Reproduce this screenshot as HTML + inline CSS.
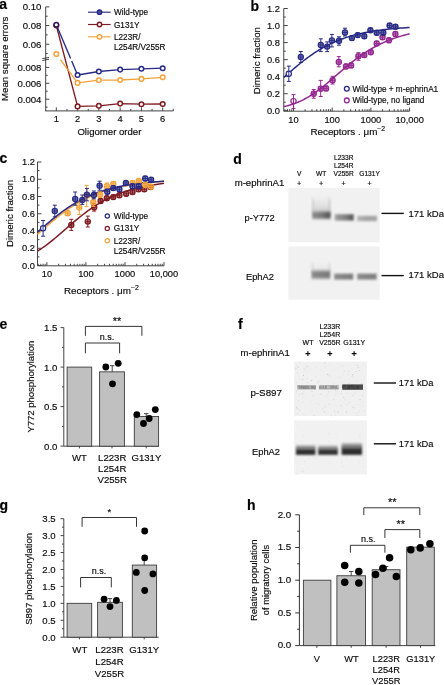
<!DOCTYPE html><html><head><meta charset="utf-8"><title>Figure</title><style>html,body{margin:0;padding:0;background:#fff;width:444px;height:685px;overflow:hidden}svg{display:block}</style></head><body><svg width="444" height="685" viewBox="0 0 444 685" font-family="'Liberation Sans', Arial, Helvetica, sans-serif"><style>text{stroke:#0a0a0a;stroke-width:0.16px;paint-order:stroke}</style><defs><filter id="b5" x="-50%" y="-50%" width="200%" height="200%"><feGaussianBlur stdDeviation="0.5"/></filter><filter id="b8" x="-50%" y="-50%" width="200%" height="200%"><feGaussianBlur stdDeviation="0.8"/></filter><filter id="b10" x="-50%" y="-50%" width="200%" height="200%"><feGaussianBlur stdDeviation="1.0"/></filter><filter id="b12" x="-50%" y="-50%" width="200%" height="200%"><feGaussianBlur stdDeviation="1.2"/></filter><filter id="b15" x="-50%" y="-50%" width="200%" height="200%"><feGaussianBlur stdDeviation="1.5"/></filter><filter id="b20" x="-50%" y="-50%" width="200%" height="200%"><feGaussianBlur stdDeviation="2.0"/></filter></defs><text x="-0.80" y="8.80" font-size="14" text-anchor="start" font-weight="bold" fill="#000" >a</text>
<line x1="45.70" y1="6.90" x2="45.70" y2="111.00" stroke="#444" stroke-width="1" />
<line x1="45.70" y1="6.90" x2="49.30" y2="6.90" stroke="#444" stroke-width="1" />
<line x1="45.70" y1="25.56" x2="49.30" y2="25.56" stroke="#444" stroke-width="1" />
<line x1="45.70" y1="44.22" x2="49.30" y2="44.22" stroke="#444" stroke-width="1" />
<line x1="45.70" y1="16.23" x2="47.70" y2="16.23" stroke="#444" stroke-width="1" />
<line x1="45.70" y1="34.89" x2="47.70" y2="34.89" stroke="#444" stroke-width="1" />
<line x1="45.70" y1="53.55" x2="47.70" y2="53.55" stroke="#444" stroke-width="1" />
<line x1="45.70" y1="67.40" x2="49.30" y2="67.40" stroke="#444" stroke-width="1" />
<line x1="45.70" y1="83.30" x2="49.30" y2="83.30" stroke="#444" stroke-width="1" />
<line x1="45.70" y1="99.20" x2="49.30" y2="99.20" stroke="#444" stroke-width="1" />
<line x1="45.70" y1="75.35" x2="47.70" y2="75.35" stroke="#444" stroke-width="1" />
<line x1="45.70" y1="91.25" x2="47.70" y2="91.25" stroke="#444" stroke-width="1" />
<line x1="45.70" y1="107.15" x2="47.70" y2="107.15" stroke="#444" stroke-width="1" />
<line x1="42.30" y1="58.60" x2="49.00" y2="57.40" stroke="#333" stroke-width="0.9" />
<line x1="42.30" y1="60.50" x2="49.00" y2="59.20" stroke="#333" stroke-width="0.9" />
<line x1="45.20" y1="110.90" x2="173.34" y2="110.90" stroke="#444" stroke-width="1" />
<line x1="56.30" y1="110.90" x2="56.30" y2="107.40" stroke="#444" stroke-width="1" />
<line x1="77.58" y1="110.90" x2="77.58" y2="107.40" stroke="#444" stroke-width="1" />
<line x1="98.86" y1="110.90" x2="98.86" y2="107.40" stroke="#444" stroke-width="1" />
<line x1="120.14" y1="110.90" x2="120.14" y2="107.40" stroke="#444" stroke-width="1" />
<line x1="141.42" y1="110.90" x2="141.42" y2="107.40" stroke="#444" stroke-width="1" />
<line x1="162.70" y1="110.90" x2="162.70" y2="107.40" stroke="#444" stroke-width="1" />
<line x1="66.94" y1="110.90" x2="66.94" y2="108.90" stroke="#444" stroke-width="1" />
<line x1="88.22" y1="110.90" x2="88.22" y2="108.90" stroke="#444" stroke-width="1" />
<line x1="109.50" y1="110.90" x2="109.50" y2="108.90" stroke="#444" stroke-width="1" />
<line x1="130.78" y1="110.90" x2="130.78" y2="108.90" stroke="#444" stroke-width="1" />
<line x1="152.06" y1="110.90" x2="152.06" y2="108.90" stroke="#444" stroke-width="1" />
<line x1="173.34" y1="110.90" x2="173.34" y2="108.90" stroke="#444" stroke-width="1" />
<text x="56.30" y="122.20" font-size="9.3" text-anchor="middle" font-weight="normal" fill="#0a0a0a" >1</text>
<text x="77.58" y="122.20" font-size="9.3" text-anchor="middle" font-weight="normal" fill="#0a0a0a" >2</text>
<text x="98.86" y="122.20" font-size="9.3" text-anchor="middle" font-weight="normal" fill="#0a0a0a" >3</text>
<text x="120.14" y="122.20" font-size="9.3" text-anchor="middle" font-weight="normal" fill="#0a0a0a" >4</text>
<text x="141.42" y="122.20" font-size="9.3" text-anchor="middle" font-weight="normal" fill="#0a0a0a" >5</text>
<text x="162.70" y="122.20" font-size="9.3" text-anchor="middle" font-weight="normal" fill="#0a0a0a" >6</text>
<text x="109.40" y="134.80" font-size="9.6" text-anchor="middle" font-weight="normal" fill="#0a0a0a" >Oligomer order</text>
<text x="41.40" y="10.30" font-size="9.6" text-anchor="end" font-weight="normal" fill="#0a0a0a" >0.10</text>
<text x="41.40" y="28.96" font-size="9.6" text-anchor="end" font-weight="normal" fill="#0a0a0a" >0.08</text>
<text x="41.40" y="47.62" font-size="9.6" text-anchor="end" font-weight="normal" fill="#0a0a0a" >0.06</text>
<text x="41.40" y="70.80" font-size="9.6" text-anchor="end" font-weight="normal" fill="#0a0a0a" >0.008</text>
<text x="41.40" y="86.70" font-size="9.6" text-anchor="end" font-weight="normal" fill="#0a0a0a" >0.006</text>
<text x="41.40" y="102.60" font-size="9.6" text-anchor="end" font-weight="normal" fill="#0a0a0a" >0.004</text>
<text transform="translate(8.10,58.80) rotate(-90)" font-size="9.7" text-anchor="middle" fill="#0a0a0a" >Mean square errors</text>
<polyline points="56.30,25.50 77.58,106.40 98.86,105.80 120.14,103.60 141.42,104.20 162.70,104.00" fill="none" stroke="#7e1b22" stroke-width="1.35" stroke-linejoin="round"/>
<circle cx="56.30" cy="25.50" r="2.3" fill="#fff" fill-opacity="1" stroke="#7e1b22" stroke-width="1.5"/>
<circle cx="77.58" cy="106.40" r="2.3" fill="#fff" fill-opacity="1" stroke="#7e1b22" stroke-width="1.5"/>
<circle cx="98.86" cy="105.80" r="2.3" fill="#fff" fill-opacity="1" stroke="#7e1b22" stroke-width="1.5"/>
<circle cx="120.14" cy="103.60" r="2.3" fill="#fff" fill-opacity="1" stroke="#7e1b22" stroke-width="1.5"/>
<circle cx="141.42" cy="104.20" r="2.3" fill="#fff" fill-opacity="1" stroke="#7e1b22" stroke-width="1.5"/>
<circle cx="162.70" cy="104.00" r="2.3" fill="#fff" fill-opacity="1" stroke="#7e1b22" stroke-width="1.5"/>
<polyline points="56.30,54.00 58.21,56.60" fill="none" stroke="#f2a33a" stroke-width="1.35" stroke-linejoin="round"/>
<polyline points="60.42,59.60 77.58,82.90 98.86,80.20 120.14,80.00 141.42,78.90 162.70,77.30" fill="none" stroke="#f2a33a" stroke-width="1.35" stroke-linejoin="round"/>
<circle cx="56.30" cy="54.00" r="2.3" fill="#fff" fill-opacity="1" stroke="#f2a33a" stroke-width="1.5"/>
<circle cx="77.58" cy="82.90" r="2.3" fill="#fff" fill-opacity="1" stroke="#f2a33a" stroke-width="1.5"/>
<circle cx="98.86" cy="80.20" r="2.3" fill="#fff" fill-opacity="1" stroke="#f2a33a" stroke-width="1.5"/>
<circle cx="120.14" cy="80.00" r="2.3" fill="#fff" fill-opacity="1" stroke="#f2a33a" stroke-width="1.5"/>
<circle cx="141.42" cy="78.90" r="2.3" fill="#fff" fill-opacity="1" stroke="#f2a33a" stroke-width="1.5"/>
<circle cx="162.70" cy="77.30" r="2.3" fill="#fff" fill-opacity="1" stroke="#f2a33a" stroke-width="1.5"/>
<polyline points="56.30,24.70 70.64,58.60" fill="none" stroke="#272a85" stroke-width="1.35" stroke-linejoin="round"/>
<polyline points="71.66,61.00 77.58,75.00 98.86,71.50 120.14,69.60 141.42,68.80 162.70,68.20" fill="none" stroke="#272a85" stroke-width="1.35" stroke-linejoin="round"/>
<circle cx="56.30" cy="24.70" r="2.3" fill="#fff" fill-opacity="1" stroke="#2e1358" stroke-width="1.5"/>
<circle cx="77.58" cy="75.00" r="2.3" fill="#fff" fill-opacity="1" stroke="#272a85" stroke-width="1.5"/>
<circle cx="98.86" cy="71.50" r="2.3" fill="#fff" fill-opacity="1" stroke="#272a85" stroke-width="1.5"/>
<circle cx="120.14" cy="69.60" r="2.3" fill="#fff" fill-opacity="1" stroke="#272a85" stroke-width="1.5"/>
<circle cx="141.42" cy="68.80" r="2.3" fill="#fff" fill-opacity="1" stroke="#272a85" stroke-width="1.5"/>
<circle cx="162.70" cy="68.20" r="2.3" fill="#fff" fill-opacity="1" stroke="#272a85" stroke-width="1.5"/>
<line x1="88.00" y1="12.20" x2="110.60" y2="12.20" stroke="#272a85" stroke-width="1.15" />
<circle cx="99.50" cy="12.20" r="2.2" fill="#4a4d9e" fill-opacity="1" stroke="#272a85" stroke-width="1.4"/>
<text x="114.00" y="15.20" font-size="8.2" text-anchor="start" font-weight="normal" fill="#0a0a0a" >Wild-type</text>
<line x1="88.00" y1="24.50" x2="110.60" y2="24.50" stroke="#7e1b22" stroke-width="1.15" />
<circle cx="99.50" cy="24.50" r="2.2" fill="#fff" fill-opacity="1" stroke="#7e1b22" stroke-width="1.4"/>
<text x="114.00" y="27.50" font-size="8.2" text-anchor="start" font-weight="normal" fill="#0a0a0a" >G131Y</text>
<line x1="88.00" y1="36.80" x2="110.60" y2="36.80" stroke="#f2a33a" stroke-width="1.15" />
<circle cx="99.50" cy="36.80" r="2.2" fill="#fff" fill-opacity="1" stroke="#f2a33a" stroke-width="1.4"/>
<text x="114.00" y="39.80" font-size="8.2" text-anchor="start" font-weight="normal" fill="#0a0a0a" >L223R/</text>
<text x="114.00" y="49.60" font-size="8.2" text-anchor="start" font-weight="normal" fill="#0a0a0a" >L254R/V255R</text>
<text x="250.60" y="10.60" font-size="14" text-anchor="start" font-weight="bold" fill="#000" >b</text>
<line x1="283.75" y1="8.51" x2="283.75" y2="111.20" stroke="#444" stroke-width="1" />
<line x1="283.75" y1="110.75" x2="287.75" y2="110.75" stroke="#444" stroke-width="1" />
<text x="279.90" y="114.05" font-size="9.3" text-anchor="end" font-weight="normal" fill="#0a0a0a" >0.0</text>
<line x1="283.75" y1="93.71" x2="287.75" y2="93.71" stroke="#444" stroke-width="1" />
<text x="279.90" y="97.01" font-size="9.3" text-anchor="end" font-weight="normal" fill="#0a0a0a" >0.2</text>
<line x1="283.75" y1="76.67" x2="287.75" y2="76.67" stroke="#444" stroke-width="1" />
<text x="279.90" y="79.97" font-size="9.3" text-anchor="end" font-weight="normal" fill="#0a0a0a" >0.4</text>
<line x1="283.75" y1="59.63" x2="287.75" y2="59.63" stroke="#444" stroke-width="1" />
<text x="279.90" y="62.93" font-size="9.3" text-anchor="end" font-weight="normal" fill="#0a0a0a" >0.6</text>
<line x1="283.75" y1="42.59" x2="287.75" y2="42.59" stroke="#444" stroke-width="1" />
<text x="279.90" y="45.89" font-size="9.3" text-anchor="end" font-weight="normal" fill="#0a0a0a" >0.8</text>
<line x1="283.75" y1="25.55" x2="287.75" y2="25.55" stroke="#444" stroke-width="1" />
<text x="279.90" y="28.85" font-size="9.3" text-anchor="end" font-weight="normal" fill="#0a0a0a" >1.0</text>
<line x1="283.75" y1="8.51" x2="287.75" y2="8.51" stroke="#444" stroke-width="1" />
<text x="279.90" y="11.81" font-size="9.3" text-anchor="end" font-weight="normal" fill="#0a0a0a" >1.2</text>
<line x1="283.75" y1="102.23" x2="285.75" y2="102.23" stroke="#444" stroke-width="1" />
<line x1="283.75" y1="85.19" x2="285.75" y2="85.19" stroke="#444" stroke-width="1" />
<line x1="283.75" y1="68.15" x2="285.75" y2="68.15" stroke="#444" stroke-width="1" />
<line x1="283.75" y1="51.11" x2="285.75" y2="51.11" stroke="#444" stroke-width="1" />
<line x1="283.75" y1="34.07" x2="285.75" y2="34.07" stroke="#444" stroke-width="1" />
<line x1="283.75" y1="17.03" x2="285.75" y2="17.03" stroke="#444" stroke-width="1" />
<line x1="283.75" y1="111.20" x2="409.60" y2="111.20" stroke="#444" stroke-width="1" />
<line x1="305.15" y1="111.20" x2="305.15" y2="109.20" stroke="#444" stroke-width="1" />
<line x1="311.96" y1="111.20" x2="311.96" y2="109.20" stroke="#444" stroke-width="1" />
<line x1="316.80" y1="111.20" x2="316.80" y2="109.20" stroke="#444" stroke-width="1" />
<line x1="320.55" y1="111.20" x2="320.55" y2="109.20" stroke="#444" stroke-width="1" />
<line x1="323.61" y1="111.20" x2="323.61" y2="109.20" stroke="#444" stroke-width="1" />
<line x1="326.21" y1="111.20" x2="326.21" y2="109.20" stroke="#444" stroke-width="1" />
<line x1="328.45" y1="111.20" x2="328.45" y2="109.20" stroke="#444" stroke-width="1" />
<line x1="330.43" y1="111.20" x2="330.43" y2="109.20" stroke="#444" stroke-width="1" />
<line x1="343.85" y1="111.20" x2="343.85" y2="109.20" stroke="#444" stroke-width="1" />
<line x1="350.66" y1="111.20" x2="350.66" y2="109.20" stroke="#444" stroke-width="1" />
<line x1="355.50" y1="111.20" x2="355.50" y2="109.20" stroke="#444" stroke-width="1" />
<line x1="359.25" y1="111.20" x2="359.25" y2="109.20" stroke="#444" stroke-width="1" />
<line x1="362.31" y1="111.20" x2="362.31" y2="109.20" stroke="#444" stroke-width="1" />
<line x1="364.91" y1="111.20" x2="364.91" y2="109.20" stroke="#444" stroke-width="1" />
<line x1="367.15" y1="111.20" x2="367.15" y2="109.20" stroke="#444" stroke-width="1" />
<line x1="369.13" y1="111.20" x2="369.13" y2="109.20" stroke="#444" stroke-width="1" />
<line x1="382.55" y1="111.20" x2="382.55" y2="109.20" stroke="#444" stroke-width="1" />
<line x1="389.36" y1="111.20" x2="389.36" y2="109.20" stroke="#444" stroke-width="1" />
<line x1="394.20" y1="111.20" x2="394.20" y2="109.20" stroke="#444" stroke-width="1" />
<line x1="397.95" y1="111.20" x2="397.95" y2="109.20" stroke="#444" stroke-width="1" />
<line x1="401.01" y1="111.20" x2="401.01" y2="109.20" stroke="#444" stroke-width="1" />
<line x1="403.61" y1="111.20" x2="403.61" y2="109.20" stroke="#444" stroke-width="1" />
<line x1="405.85" y1="111.20" x2="405.85" y2="109.20" stroke="#444" stroke-width="1" />
<line x1="407.83" y1="111.20" x2="407.83" y2="109.20" stroke="#444" stroke-width="1" />
<line x1="284.91" y1="111.20" x2="284.91" y2="109.20" stroke="#444" stroke-width="1" />
<line x1="287.51" y1="111.20" x2="287.51" y2="109.20" stroke="#444" stroke-width="1" />
<line x1="289.75" y1="111.20" x2="289.75" y2="109.20" stroke="#444" stroke-width="1" />
<line x1="291.73" y1="111.20" x2="291.73" y2="109.20" stroke="#444" stroke-width="1" />
<line x1="293.50" y1="111.20" x2="293.50" y2="107.60" stroke="#444" stroke-width="1" />
<text x="293.50" y="122.60" font-size="9.3" text-anchor="middle" font-weight="normal" fill="#0a0a0a" >10</text>
<line x1="332.20" y1="111.20" x2="332.20" y2="107.60" stroke="#444" stroke-width="1" />
<text x="332.20" y="122.60" font-size="9.3" text-anchor="middle" font-weight="normal" fill="#0a0a0a" >100</text>
<line x1="370.90" y1="111.20" x2="370.90" y2="107.60" stroke="#444" stroke-width="1" />
<text x="370.90" y="122.60" font-size="9.3" text-anchor="middle" font-weight="normal" fill="#0a0a0a" >1000</text>
<line x1="409.60" y1="111.20" x2="409.60" y2="107.60" stroke="#444" stroke-width="1" />
<text x="409.60" y="122.60" font-size="9.3" text-anchor="middle" font-weight="normal" fill="#0a0a0a" >10,000</text>
<text x="310.4" y="134.6" font-size="9.85" fill="#0a0a0a">Receptors . μm<tspan font-size="6.8" dy="-3.8">−2</tspan></text>
<text transform="translate(259.70,60.70) rotate(-90)" font-size="9.7" text-anchor="middle" fill="#0a0a0a" >Dimeric fraction</text>
<polyline points="283.75,77.41 285.32,76.04 286.90,74.67 288.47,73.31 290.04,71.95 291.62,70.59 293.19,69.24 294.76,67.91 296.33,66.59 297.91,65.29 299.48,64.00 301.05,62.74 302.63,61.50 304.20,60.28 305.77,59.08 307.35,57.91 308.92,56.76 310.49,55.64 312.07,54.55 313.64,53.48 315.21,52.45 316.79,51.44 318.36,50.46 319.93,49.50 321.50,48.58 323.08,47.69 324.65,46.82 326.22,45.98 327.80,45.17 329.37,44.38 330.94,43.62 332.52,42.89 334.09,42.18 335.66,41.50 337.24,40.84 338.81,40.21 340.38,39.60 341.96,39.01 343.53,38.45 345.10,37.91 346.68,37.38 348.25,36.88 349.82,36.40 351.39,35.93 352.97,35.49 354.54,35.06 356.11,34.65 357.69,34.26 359.26,33.88 360.83,33.52 362.41,33.17 363.98,32.84 365.55,32.52 367.13,32.21 368.70,31.92 370.27,31.64 371.85,31.37 373.42,31.11 374.99,30.87 376.56,30.63 378.14,30.41 379.71,30.19 381.28,29.98 382.86,29.79 384.43,29.60 386.00,29.42 387.58,29.24 389.15,29.08 390.72,28.92 392.30,28.77 393.87,28.62 395.44,28.49 397.01,28.35 398.59,28.23 400.16,28.11 401.73,27.99 403.31,27.88 404.88,27.78 406.45,27.68 408.03,27.58 409.60,27.49" fill="none" stroke="#272a85" stroke-width="1.5" stroke-linejoin="round"/>
<polyline points="283.75,106.64 285.32,106.27 286.90,105.88 288.47,105.46 290.04,105.01 291.62,104.52 293.19,104.00 294.76,103.44 296.33,102.84 297.91,102.21 299.48,101.54 301.05,100.82 302.63,100.07 304.20,99.27 305.77,98.43 307.35,97.54 308.92,96.62 310.49,95.65 312.07,94.64 313.64,93.60 315.21,92.51 316.79,91.39 318.36,90.23 319.93,89.04 321.50,87.81 323.08,86.57 324.65,85.29 326.22,83.99 327.80,82.68 329.37,81.34 330.94,80.00 332.52,78.64 334.09,77.28 335.66,75.91 337.24,74.54 338.81,73.18 340.38,71.82 341.96,70.46 343.53,69.12 345.10,67.79 346.68,66.47 348.25,65.17 349.82,63.88 351.39,62.62 352.97,61.38 354.54,60.16 356.11,58.97 357.69,57.80 359.26,56.65 360.83,55.54 362.41,54.45 363.98,53.38 365.55,52.35 367.13,51.34 368.70,50.37 370.27,49.42 371.85,48.50 373.42,47.60 374.99,46.74 376.56,45.90 378.14,45.09 379.71,44.31 381.28,43.55 382.86,42.82 384.43,42.12 386.00,41.44 387.58,40.78 389.15,40.15 390.72,39.54 392.30,38.96 393.87,38.40 395.44,37.86 397.01,37.33 398.59,36.83 400.16,36.35 401.73,35.89 403.31,35.45 404.88,35.02 406.45,34.61 408.03,34.22 409.60,33.84" fill="none" stroke="#93278f" stroke-width="1.5" stroke-linejoin="round"/>
<circle cx="293.50" cy="101.10" r="2.6" fill="#fff" fill-opacity="1" stroke="#93278f" stroke-width="1.2"/>
<line x1="293.50" y1="94.60" x2="293.50" y2="108.40" stroke="#93278f" stroke-width="1.0" />
<line x1="291.50" y1="94.60" x2="295.50" y2="94.60" stroke="#93278f" stroke-width="1.0" />
<line x1="291.50" y1="108.40" x2="295.50" y2="108.40" stroke="#93278f" stroke-width="1.0" />
<circle cx="313.70" cy="93.80" r="2.6" fill="#93278f" fill-opacity="0.58" stroke="#93278f" stroke-width="1.2"/>
<line x1="311.10" y1="93.80" x2="316.30" y2="93.80" stroke="#93278f" stroke-width="0.9" />
<line x1="313.70" y1="89.50" x2="313.70" y2="98.20" stroke="#93278f" stroke-width="1.0" />
<line x1="311.70" y1="89.50" x2="315.70" y2="89.50" stroke="#93278f" stroke-width="1.0" />
<line x1="311.70" y1="98.20" x2="315.70" y2="98.20" stroke="#93278f" stroke-width="1.0" />
<circle cx="320.70" cy="88.70" r="2.6" fill="#93278f" fill-opacity="0.58" stroke="#93278f" stroke-width="1.2"/>
<line x1="318.10" y1="88.70" x2="323.30" y2="88.70" stroke="#93278f" stroke-width="0.9" />
<line x1="320.70" y1="80.40" x2="320.70" y2="96.50" stroke="#93278f" stroke-width="1.0" />
<line x1="318.70" y1="80.40" x2="322.70" y2="80.40" stroke="#93278f" stroke-width="1.0" />
<line x1="318.70" y1="96.50" x2="322.70" y2="96.50" stroke="#93278f" stroke-width="1.0" />
<circle cx="326.10" cy="88.40" r="2.6" fill="#93278f" fill-opacity="0.58" stroke="#93278f" stroke-width="1.2"/>
<line x1="323.50" y1="88.40" x2="328.70" y2="88.40" stroke="#93278f" stroke-width="0.9" />
<line x1="326.10" y1="86.00" x2="326.10" y2="90.80" stroke="#93278f" stroke-width="1.0" />
<line x1="324.10" y1="86.00" x2="328.10" y2="86.00" stroke="#93278f" stroke-width="1.0" />
<line x1="324.10" y1="90.80" x2="328.10" y2="90.80" stroke="#93278f" stroke-width="1.0" />
<circle cx="332.60" cy="80.30" r="2.6" fill="#93278f" fill-opacity="0.58" stroke="#93278f" stroke-width="1.2"/>
<line x1="330.00" y1="80.30" x2="335.20" y2="80.30" stroke="#93278f" stroke-width="0.9" />
<line x1="332.60" y1="76.30" x2="332.60" y2="84.00" stroke="#93278f" stroke-width="1.0" />
<line x1="330.60" y1="76.30" x2="334.60" y2="76.30" stroke="#93278f" stroke-width="1.0" />
<line x1="330.60" y1="84.00" x2="334.60" y2="84.00" stroke="#93278f" stroke-width="1.0" />
<circle cx="338.80" cy="62.00" r="2.6" fill="#93278f" fill-opacity="0.58" stroke="#93278f" stroke-width="1.2"/>
<line x1="336.20" y1="62.00" x2="341.40" y2="62.00" stroke="#93278f" stroke-width="0.9" />
<line x1="338.80" y1="56.60" x2="338.80" y2="66.80" stroke="#93278f" stroke-width="1.0" />
<line x1="336.80" y1="56.60" x2="340.80" y2="56.60" stroke="#93278f" stroke-width="1.0" />
<line x1="336.80" y1="66.80" x2="340.80" y2="66.80" stroke="#93278f" stroke-width="1.0" />
<circle cx="346.00" cy="66.40" r="2.6" fill="#93278f" fill-opacity="0.58" stroke="#93278f" stroke-width="1.2"/>
<line x1="343.40" y1="66.40" x2="348.60" y2="66.40" stroke="#93278f" stroke-width="0.9" />
<line x1="346.00" y1="64.00" x2="346.00" y2="68.80" stroke="#93278f" stroke-width="1.0" />
<line x1="344.00" y1="64.00" x2="348.00" y2="64.00" stroke="#93278f" stroke-width="1.0" />
<line x1="344.00" y1="68.80" x2="348.00" y2="68.80" stroke="#93278f" stroke-width="1.0" />
<circle cx="351.10" cy="65.40" r="2.6" fill="#93278f" fill-opacity="0.58" stroke="#93278f" stroke-width="1.2"/>
<line x1="348.50" y1="65.40" x2="353.70" y2="65.40" stroke="#93278f" stroke-width="0.9" />
<line x1="351.10" y1="63.00" x2="351.10" y2="67.80" stroke="#93278f" stroke-width="1.0" />
<line x1="349.10" y1="63.00" x2="353.10" y2="63.00" stroke="#93278f" stroke-width="1.0" />
<line x1="349.10" y1="67.80" x2="353.10" y2="67.80" stroke="#93278f" stroke-width="1.0" />
<circle cx="358.40" cy="56.30" r="2.6" fill="#93278f" fill-opacity="0.58" stroke="#93278f" stroke-width="1.2"/>
<line x1="355.80" y1="56.30" x2="361.00" y2="56.30" stroke="#93278f" stroke-width="0.9" />
<line x1="358.40" y1="52.70" x2="358.40" y2="60.30" stroke="#93278f" stroke-width="1.0" />
<line x1="356.40" y1="52.70" x2="360.40" y2="52.70" stroke="#93278f" stroke-width="1.0" />
<line x1="356.40" y1="60.30" x2="360.40" y2="60.30" stroke="#93278f" stroke-width="1.0" />
<circle cx="364.30" cy="55.10" r="2.6" fill="#93278f" fill-opacity="0.58" stroke="#93278f" stroke-width="1.2"/>
<line x1="361.70" y1="55.10" x2="366.90" y2="55.10" stroke="#93278f" stroke-width="0.9" />
<line x1="364.30" y1="53.00" x2="364.30" y2="57.20" stroke="#93278f" stroke-width="1.0" />
<line x1="362.30" y1="53.00" x2="366.30" y2="53.00" stroke="#93278f" stroke-width="1.0" />
<line x1="362.30" y1="57.20" x2="366.30" y2="57.20" stroke="#93278f" stroke-width="1.0" />
<circle cx="370.80" cy="52.20" r="2.6" fill="#93278f" fill-opacity="0.58" stroke="#93278f" stroke-width="1.2"/>
<line x1="368.20" y1="52.20" x2="373.40" y2="52.20" stroke="#93278f" stroke-width="0.9" />
<line x1="370.80" y1="50.00" x2="370.80" y2="54.40" stroke="#93278f" stroke-width="1.0" />
<line x1="368.80" y1="50.00" x2="372.80" y2="50.00" stroke="#93278f" stroke-width="1.0" />
<line x1="368.80" y1="54.40" x2="372.80" y2="54.40" stroke="#93278f" stroke-width="1.0" />
<circle cx="376.70" cy="43.50" r="2.6" fill="#93278f" fill-opacity="0.58" stroke="#93278f" stroke-width="1.2"/>
<line x1="374.10" y1="43.50" x2="379.30" y2="43.50" stroke="#93278f" stroke-width="0.9" />
<line x1="376.70" y1="41.30" x2="376.70" y2="45.70" stroke="#93278f" stroke-width="1.0" />
<line x1="374.70" y1="41.30" x2="378.70" y2="41.30" stroke="#93278f" stroke-width="1.0" />
<line x1="374.70" y1="45.70" x2="378.70" y2="45.70" stroke="#93278f" stroke-width="1.0" />
<circle cx="382.50" cy="37.20" r="2.6" fill="#93278f" fill-opacity="0.58" stroke="#93278f" stroke-width="1.2"/>
<line x1="379.90" y1="37.20" x2="385.10" y2="37.20" stroke="#93278f" stroke-width="0.9" />
<line x1="382.50" y1="35.00" x2="382.50" y2="39.40" stroke="#93278f" stroke-width="1.0" />
<line x1="380.50" y1="35.00" x2="384.50" y2="35.00" stroke="#93278f" stroke-width="1.0" />
<line x1="380.50" y1="39.40" x2="384.50" y2="39.40" stroke="#93278f" stroke-width="1.0" />
<circle cx="389.00" cy="40.30" r="2.6" fill="#93278f" fill-opacity="0.58" stroke="#93278f" stroke-width="1.2"/>
<line x1="386.40" y1="40.30" x2="391.60" y2="40.30" stroke="#93278f" stroke-width="0.9" />
<line x1="389.00" y1="38.00" x2="389.00" y2="42.60" stroke="#93278f" stroke-width="1.0" />
<line x1="387.00" y1="38.00" x2="391.00" y2="38.00" stroke="#93278f" stroke-width="1.0" />
<line x1="387.00" y1="42.60" x2="391.00" y2="42.60" stroke="#93278f" stroke-width="1.0" />
<circle cx="395.40" cy="34.00" r="2.6" fill="#93278f" fill-opacity="0.58" stroke="#93278f" stroke-width="1.2"/>
<line x1="392.80" y1="34.00" x2="398.00" y2="34.00" stroke="#93278f" stroke-width="0.9" />
<line x1="395.40" y1="31.60" x2="395.40" y2="36.40" stroke="#93278f" stroke-width="1.0" />
<line x1="393.40" y1="31.60" x2="397.40" y2="31.60" stroke="#93278f" stroke-width="1.0" />
<line x1="393.40" y1="36.40" x2="397.40" y2="36.40" stroke="#93278f" stroke-width="1.0" />
<circle cx="288.80" cy="73.80" r="2.6" fill="#fff" fill-opacity="1" stroke="#272a85" stroke-width="1.2"/>
<line x1="288.80" y1="66.10" x2="288.80" y2="81.40" stroke="#272a85" stroke-width="1.0" />
<line x1="286.80" y1="66.10" x2="290.80" y2="66.10" stroke="#272a85" stroke-width="1.0" />
<line x1="286.80" y1="81.40" x2="290.80" y2="81.40" stroke="#272a85" stroke-width="1.0" />
<circle cx="300.80" cy="57.00" r="2.6" fill="#272a85" fill-opacity="0.58" stroke="#272a85" stroke-width="1.2"/>
<line x1="298.20" y1="57.00" x2="303.40" y2="57.00" stroke="#272a85" stroke-width="0.9" />
<line x1="300.80" y1="51.50" x2="300.80" y2="62.40" stroke="#272a85" stroke-width="1.0" />
<line x1="298.80" y1="51.50" x2="302.80" y2="51.50" stroke="#272a85" stroke-width="1.0" />
<line x1="298.80" y1="62.40" x2="302.80" y2="62.40" stroke="#272a85" stroke-width="1.0" />
<circle cx="320.80" cy="44.90" r="2.6" fill="#272a85" fill-opacity="0.58" stroke="#272a85" stroke-width="1.2"/>
<line x1="318.20" y1="44.90" x2="323.40" y2="44.90" stroke="#272a85" stroke-width="0.9" />
<line x1="320.80" y1="38.80" x2="320.80" y2="51.60" stroke="#272a85" stroke-width="1.0" />
<line x1="318.80" y1="38.80" x2="322.80" y2="38.80" stroke="#272a85" stroke-width="1.0" />
<line x1="318.80" y1="51.60" x2="322.80" y2="51.60" stroke="#272a85" stroke-width="1.0" />
<circle cx="327.20" cy="46.60" r="2.6" fill="#272a85" fill-opacity="0.58" stroke="#272a85" stroke-width="1.2"/>
<line x1="324.60" y1="46.60" x2="329.80" y2="46.60" stroke="#272a85" stroke-width="0.9" />
<line x1="327.20" y1="41.90" x2="327.20" y2="51.60" stroke="#272a85" stroke-width="1.0" />
<line x1="325.20" y1="41.90" x2="329.20" y2="41.90" stroke="#272a85" stroke-width="1.0" />
<line x1="325.20" y1="51.60" x2="329.20" y2="51.60" stroke="#272a85" stroke-width="1.0" />
<circle cx="331.90" cy="40.50" r="2.6" fill="#272a85" fill-opacity="0.58" stroke="#272a85" stroke-width="1.2"/>
<line x1="329.30" y1="40.50" x2="334.50" y2="40.50" stroke="#272a85" stroke-width="0.9" />
<line x1="331.90" y1="34.40" x2="331.90" y2="46.90" stroke="#272a85" stroke-width="1.0" />
<line x1="329.90" y1="34.40" x2="333.90" y2="34.40" stroke="#272a85" stroke-width="1.0" />
<line x1="329.90" y1="46.90" x2="333.90" y2="46.90" stroke="#272a85" stroke-width="1.0" />
<circle cx="339.00" cy="40.80" r="2.6" fill="#272a85" fill-opacity="0.58" stroke="#272a85" stroke-width="1.2"/>
<line x1="336.40" y1="40.80" x2="341.60" y2="40.80" stroke="#272a85" stroke-width="0.9" />
<line x1="339.00" y1="36.80" x2="339.00" y2="45.20" stroke="#272a85" stroke-width="1.0" />
<line x1="337.00" y1="36.80" x2="341.00" y2="36.80" stroke="#272a85" stroke-width="1.0" />
<line x1="337.00" y1="45.20" x2="341.00" y2="45.20" stroke="#272a85" stroke-width="1.0" />
<circle cx="345.00" cy="32.50" r="2.6" fill="#272a85" fill-opacity="0.58" stroke="#272a85" stroke-width="1.2"/>
<line x1="342.40" y1="32.50" x2="347.60" y2="32.50" stroke="#272a85" stroke-width="0.9" />
<line x1="345.00" y1="28.20" x2="345.00" y2="36.00" stroke="#272a85" stroke-width="1.0" />
<line x1="343.00" y1="28.20" x2="347.00" y2="28.20" stroke="#272a85" stroke-width="1.0" />
<line x1="343.00" y1="36.00" x2="347.00" y2="36.00" stroke="#272a85" stroke-width="1.0" />
<circle cx="351.90" cy="38.10" r="2.6" fill="#272a85" fill-opacity="0.58" stroke="#272a85" stroke-width="1.2"/>
<line x1="349.30" y1="38.10" x2="354.50" y2="38.10" stroke="#272a85" stroke-width="0.9" />
<line x1="351.90" y1="35.50" x2="351.90" y2="40.50" stroke="#272a85" stroke-width="1.0" />
<line x1="349.90" y1="35.50" x2="353.90" y2="35.50" stroke="#272a85" stroke-width="1.0" />
<line x1="349.90" y1="40.50" x2="353.90" y2="40.50" stroke="#272a85" stroke-width="1.0" />
<circle cx="357.70" cy="35.10" r="2.6" fill="#272a85" fill-opacity="0.58" stroke="#272a85" stroke-width="1.2"/>
<line x1="355.10" y1="35.10" x2="360.30" y2="35.10" stroke="#272a85" stroke-width="0.9" />
<line x1="357.70" y1="33.00" x2="357.70" y2="37.20" stroke="#272a85" stroke-width="1.0" />
<line x1="355.70" y1="33.00" x2="359.70" y2="33.00" stroke="#272a85" stroke-width="1.0" />
<line x1="355.70" y1="37.20" x2="359.70" y2="37.20" stroke="#272a85" stroke-width="1.0" />
<circle cx="364.30" cy="36.20" r="2.6" fill="#272a85" fill-opacity="0.58" stroke="#272a85" stroke-width="1.2"/>
<line x1="361.70" y1="36.20" x2="366.90" y2="36.20" stroke="#272a85" stroke-width="0.9" />
<line x1="364.30" y1="34.00" x2="364.30" y2="38.40" stroke="#272a85" stroke-width="1.0" />
<line x1="362.30" y1="34.00" x2="366.30" y2="34.00" stroke="#272a85" stroke-width="1.0" />
<line x1="362.30" y1="38.40" x2="366.30" y2="38.40" stroke="#272a85" stroke-width="1.0" />
<circle cx="370.40" cy="30.30" r="2.6" fill="#272a85" fill-opacity="0.58" stroke="#272a85" stroke-width="1.2"/>
<line x1="367.80" y1="30.30" x2="373.00" y2="30.30" stroke="#272a85" stroke-width="0.9" />
<line x1="370.40" y1="28.30" x2="370.40" y2="32.30" stroke="#272a85" stroke-width="1.0" />
<line x1="368.40" y1="28.30" x2="372.40" y2="28.30" stroke="#272a85" stroke-width="1.0" />
<line x1="368.40" y1="32.30" x2="372.40" y2="32.30" stroke="#272a85" stroke-width="1.0" />
<circle cx="376.70" cy="32.80" r="2.6" fill="#272a85" fill-opacity="0.58" stroke="#272a85" stroke-width="1.2"/>
<line x1="374.10" y1="32.80" x2="379.30" y2="32.80" stroke="#272a85" stroke-width="0.9" />
<line x1="376.70" y1="30.80" x2="376.70" y2="34.80" stroke="#272a85" stroke-width="1.0" />
<line x1="374.70" y1="30.80" x2="378.70" y2="30.80" stroke="#272a85" stroke-width="1.0" />
<line x1="374.70" y1="34.80" x2="378.70" y2="34.80" stroke="#272a85" stroke-width="1.0" />
<circle cx="383.30" cy="32.80" r="2.6" fill="#272a85" fill-opacity="0.58" stroke="#272a85" stroke-width="1.2"/>
<line x1="380.70" y1="32.80" x2="385.90" y2="32.80" stroke="#272a85" stroke-width="0.9" />
<line x1="383.30" y1="30.80" x2="383.30" y2="34.80" stroke="#272a85" stroke-width="1.0" />
<line x1="381.30" y1="30.80" x2="385.30" y2="30.80" stroke="#272a85" stroke-width="1.0" />
<line x1="381.30" y1="34.80" x2="385.30" y2="34.80" stroke="#272a85" stroke-width="1.0" />
<circle cx="389.60" cy="25.50" r="2.6" fill="#272a85" fill-opacity="0.58" stroke="#272a85" stroke-width="1.2"/>
<line x1="387.00" y1="25.50" x2="392.20" y2="25.50" stroke="#272a85" stroke-width="0.9" />
<line x1="389.60" y1="23.60" x2="389.60" y2="27.40" stroke="#272a85" stroke-width="1.0" />
<line x1="387.60" y1="23.60" x2="391.60" y2="23.60" stroke="#272a85" stroke-width="1.0" />
<line x1="387.60" y1="27.40" x2="391.60" y2="27.40" stroke="#272a85" stroke-width="1.0" />
<circle cx="395.50" cy="26.70" r="2.6" fill="#272a85" fill-opacity="0.58" stroke="#272a85" stroke-width="1.2"/>
<line x1="392.90" y1="26.70" x2="398.10" y2="26.70" stroke="#272a85" stroke-width="0.9" />
<line x1="395.50" y1="24.80" x2="395.50" y2="28.60" stroke="#272a85" stroke-width="1.0" />
<line x1="393.50" y1="24.80" x2="397.50" y2="24.80" stroke="#272a85" stroke-width="1.0" />
<line x1="393.50" y1="28.60" x2="397.50" y2="28.60" stroke="#272a85" stroke-width="1.0" />
<circle cx="346.80" cy="88.70" r="2.4" fill="#fff" fill-opacity="1" stroke="#272a85" stroke-width="1.3"/>
<text x="352.40" y="91.70" font-size="8.2" text-anchor="start" font-weight="normal" fill="#0a0a0a" >Wild-type + m-ephrinA1</text>
<circle cx="346.80" cy="100.40" r="2.4" fill="#fff" fill-opacity="1" stroke="#93278f" stroke-width="1.3"/>
<text x="352.40" y="103.40" font-size="8.2" text-anchor="start" font-weight="normal" fill="#0a0a0a" >Wild-type, no ligand</text>
<text x="-0.50" y="162.70" font-size="14" text-anchor="start" font-weight="bold" fill="#000" >c</text>
<line x1="37.50" y1="162.00" x2="37.50" y2="265.80" stroke="#444" stroke-width="1" />
<line x1="37.50" y1="265.50" x2="41.50" y2="265.50" stroke="#444" stroke-width="1" />
<text x="35.00" y="268.60" font-size="9.3" text-anchor="end" font-weight="normal" fill="#0a0a0a" >0.0</text>
<line x1="37.50" y1="248.25" x2="41.50" y2="248.25" stroke="#444" stroke-width="1" />
<text x="35.00" y="251.35" font-size="9.3" text-anchor="end" font-weight="normal" fill="#0a0a0a" >0.2</text>
<line x1="37.50" y1="231.00" x2="41.50" y2="231.00" stroke="#444" stroke-width="1" />
<text x="35.00" y="234.10" font-size="9.3" text-anchor="end" font-weight="normal" fill="#0a0a0a" >0.4</text>
<line x1="37.50" y1="213.75" x2="41.50" y2="213.75" stroke="#444" stroke-width="1" />
<text x="35.00" y="216.85" font-size="9.3" text-anchor="end" font-weight="normal" fill="#0a0a0a" >0.6</text>
<line x1="37.50" y1="196.50" x2="41.50" y2="196.50" stroke="#444" stroke-width="1" />
<text x="35.00" y="199.60" font-size="9.3" text-anchor="end" font-weight="normal" fill="#0a0a0a" >0.8</text>
<line x1="37.50" y1="179.25" x2="41.50" y2="179.25" stroke="#444" stroke-width="1" />
<text x="35.00" y="182.35" font-size="9.3" text-anchor="end" font-weight="normal" fill="#0a0a0a" >1.0</text>
<line x1="37.50" y1="162.00" x2="41.50" y2="162.00" stroke="#444" stroke-width="1" />
<text x="35.00" y="165.10" font-size="9.3" text-anchor="end" font-weight="normal" fill="#0a0a0a" >1.2</text>
<line x1="37.50" y1="256.88" x2="39.50" y2="256.88" stroke="#444" stroke-width="1" />
<line x1="37.50" y1="239.62" x2="39.50" y2="239.62" stroke="#444" stroke-width="1" />
<line x1="37.50" y1="222.38" x2="39.50" y2="222.38" stroke="#444" stroke-width="1" />
<line x1="37.50" y1="205.12" x2="39.50" y2="205.12" stroke="#444" stroke-width="1" />
<line x1="37.50" y1="187.88" x2="39.50" y2="187.88" stroke="#444" stroke-width="1" />
<line x1="37.50" y1="170.62" x2="39.50" y2="170.62" stroke="#444" stroke-width="1" />
<line x1="37.50" y1="265.80" x2="163.99" y2="265.80" stroke="#444" stroke-width="1" />
<line x1="58.65" y1="265.80" x2="58.65" y2="263.80" stroke="#444" stroke-width="1" />
<line x1="65.52" y1="265.80" x2="65.52" y2="263.80" stroke="#444" stroke-width="1" />
<line x1="70.40" y1="265.80" x2="70.40" y2="263.80" stroke="#444" stroke-width="1" />
<line x1="74.18" y1="265.80" x2="74.18" y2="263.80" stroke="#444" stroke-width="1" />
<line x1="77.27" y1="265.80" x2="77.27" y2="263.80" stroke="#444" stroke-width="1" />
<line x1="79.88" y1="265.80" x2="79.88" y2="263.80" stroke="#444" stroke-width="1" />
<line x1="82.15" y1="265.80" x2="82.15" y2="263.80" stroke="#444" stroke-width="1" />
<line x1="84.14" y1="265.80" x2="84.14" y2="263.80" stroke="#444" stroke-width="1" />
<line x1="97.68" y1="265.80" x2="97.68" y2="263.80" stroke="#444" stroke-width="1" />
<line x1="104.55" y1="265.80" x2="104.55" y2="263.80" stroke="#444" stroke-width="1" />
<line x1="109.43" y1="265.80" x2="109.43" y2="263.80" stroke="#444" stroke-width="1" />
<line x1="113.21" y1="265.80" x2="113.21" y2="263.80" stroke="#444" stroke-width="1" />
<line x1="116.30" y1="265.80" x2="116.30" y2="263.80" stroke="#444" stroke-width="1" />
<line x1="118.91" y1="265.80" x2="118.91" y2="263.80" stroke="#444" stroke-width="1" />
<line x1="121.18" y1="265.80" x2="121.18" y2="263.80" stroke="#444" stroke-width="1" />
<line x1="123.17" y1="265.80" x2="123.17" y2="263.80" stroke="#444" stroke-width="1" />
<line x1="136.71" y1="265.80" x2="136.71" y2="263.80" stroke="#444" stroke-width="1" />
<line x1="143.58" y1="265.80" x2="143.58" y2="263.80" stroke="#444" stroke-width="1" />
<line x1="148.46" y1="265.80" x2="148.46" y2="263.80" stroke="#444" stroke-width="1" />
<line x1="152.24" y1="265.80" x2="152.24" y2="263.80" stroke="#444" stroke-width="1" />
<line x1="155.33" y1="265.80" x2="155.33" y2="263.80" stroke="#444" stroke-width="1" />
<line x1="157.94" y1="265.80" x2="157.94" y2="263.80" stroke="#444" stroke-width="1" />
<line x1="160.21" y1="265.80" x2="160.21" y2="263.80" stroke="#444" stroke-width="1" />
<line x1="162.20" y1="265.80" x2="162.20" y2="263.80" stroke="#444" stroke-width="1" />
<line x1="38.24" y1="265.80" x2="38.24" y2="263.80" stroke="#444" stroke-width="1" />
<line x1="40.85" y1="265.80" x2="40.85" y2="263.80" stroke="#444" stroke-width="1" />
<line x1="43.12" y1="265.80" x2="43.12" y2="263.80" stroke="#444" stroke-width="1" />
<line x1="45.11" y1="265.80" x2="45.11" y2="263.80" stroke="#444" stroke-width="1" />
<line x1="46.90" y1="265.80" x2="46.90" y2="262.20" stroke="#444" stroke-width="1" />
<text x="46.90" y="277.00" font-size="9.3" text-anchor="middle" font-weight="normal" fill="#0a0a0a" >10</text>
<line x1="85.93" y1="265.80" x2="85.93" y2="262.20" stroke="#444" stroke-width="1" />
<text x="85.93" y="277.00" font-size="9.3" text-anchor="middle" font-weight="normal" fill="#0a0a0a" >100</text>
<line x1="124.96" y1="265.80" x2="124.96" y2="262.20" stroke="#444" stroke-width="1" />
<text x="124.96" y="277.00" font-size="9.3" text-anchor="middle" font-weight="normal" fill="#0a0a0a" >1000</text>
<line x1="163.99" y1="265.80" x2="163.99" y2="262.20" stroke="#444" stroke-width="1" />
<text x="163.99" y="277.00" font-size="9.3" text-anchor="middle" font-weight="normal" fill="#0a0a0a" >10,000</text>
<text x="64.0" y="294.2" font-size="9.85" fill="#0a0a0a">Receptors . μm<tspan font-size="6.8" dy="-3.8">−2</tspan></text>
<text transform="translate(12.80,213.40) rotate(-90)" font-size="9.7" text-anchor="middle" fill="#0a0a0a" >Dimeric fraction</text>
<polyline points="37.50,251.07 39.08,250.09 40.66,249.07 42.24,248.00 43.82,246.90 45.41,245.77 46.99,244.59 48.57,243.39 50.15,242.15 51.73,240.89 53.31,239.60 54.89,238.29 56.47,236.96 58.05,235.61 59.64,234.26 61.22,232.89 62.80,231.51 64.38,230.13 65.96,228.75 67.54,227.37 69.12,226.00 70.70,224.63 72.28,223.28 73.87,221.94 75.45,220.61 77.03,219.30 78.61,218.00 80.19,216.73 81.77,215.48 83.35,214.25 84.93,213.04 86.51,211.86 88.10,210.71 89.68,209.58 91.26,208.49 92.84,207.41 94.42,206.37 96.00,205.36 97.58,204.37 99.16,203.41 100.75,202.48 102.33,201.58 103.91,200.71 105.49,199.86 107.07,199.05 108.65,198.26 110.23,197.49 111.81,196.76 113.39,196.05 114.98,195.36 116.56,194.70 118.14,194.06 119.72,193.45 121.30,192.85 122.88,192.28 124.46,191.74 126.04,191.21 127.62,190.70 129.21,190.22 130.79,189.75 132.37,189.30 133.95,188.87 135.53,188.46 137.11,188.06 138.69,187.68 140.27,187.31 141.85,186.96 143.44,186.63 145.02,186.31 146.60,186.00 148.18,185.70 149.76,185.42 151.34,185.15 152.92,184.89 154.50,184.64 156.08,184.40 157.67,184.17 159.25,183.96 160.83,183.75 162.41,183.55 163.99,183.36" fill="none" stroke="#7e1b22" stroke-width="1.5" stroke-linejoin="round"/>
<polyline points="37.50,234.26 39.08,232.89 40.66,231.52 42.24,230.14 43.82,228.76 45.41,227.38 46.99,226.00 48.57,224.64 50.15,223.28 51.73,221.94 53.31,220.61 54.89,219.30 56.47,218.01 58.05,216.73 59.64,215.48 61.22,214.25 62.80,213.05 64.38,211.87 65.96,210.71 67.54,209.59 69.12,208.49 70.70,207.42 72.28,206.37 73.87,205.36 75.45,204.37 77.03,203.42 78.61,202.49 80.19,201.59 81.77,200.71 83.35,199.87 84.93,199.05 86.51,198.26 88.10,197.50 89.68,196.76 91.26,196.05 92.84,195.36 94.42,194.70 96.00,194.06 97.58,193.45 99.16,192.86 100.75,192.29 102.33,191.74 103.91,191.21 105.49,190.71 107.07,190.22 108.65,189.75 110.23,189.30 111.81,188.87 113.39,188.46 114.98,188.06 116.56,187.68 118.14,187.32 119.72,186.97 121.30,186.63 122.88,186.31 124.46,186.00 126.04,185.70 127.62,185.42 129.21,185.15 130.79,184.89 132.37,184.64 133.95,184.40 135.53,184.17 137.11,183.96 138.69,183.75 140.27,183.55 141.85,183.36 143.44,183.17 145.02,183.00 146.60,182.83 148.18,182.67 149.76,182.52 151.34,182.37 152.92,182.23 154.50,182.10 156.08,181.97 157.67,181.85 159.25,181.73 160.83,181.62 162.41,181.51 163.99,181.41" fill="none" stroke="#f2a33a" stroke-width="1.5" stroke-linejoin="round"/>
<polyline points="37.50,232.18 39.08,230.81 40.66,229.42 42.24,228.05 43.82,226.67 45.41,225.30 46.99,223.94 48.57,222.59 50.15,221.25 51.73,219.93 53.31,218.63 54.89,217.35 56.47,216.08 58.05,214.84 59.64,213.63 61.22,212.44 62.80,211.27 64.38,210.13 65.96,209.02 67.54,207.93 69.12,206.88 70.70,205.85 72.28,204.85 73.87,203.88 75.45,202.93 77.03,202.02 78.61,201.13 80.19,200.27 81.77,199.44 83.35,198.64 84.93,197.86 86.51,197.11 88.10,196.39 89.68,195.69 91.26,195.02 92.84,194.37 94.42,193.74 96.00,193.14 97.58,192.56 99.16,192.00 100.75,191.47 102.33,190.95 103.91,190.45 105.49,189.98 107.07,189.52 108.65,189.08 110.23,188.66 111.81,188.25 113.39,187.86 114.98,187.49 116.56,187.13 118.14,186.79 119.72,186.46 121.30,186.15 122.88,185.85 124.46,185.56 126.04,185.28 127.62,185.01 129.21,184.76 130.79,184.52 132.37,184.28 133.95,184.06 135.53,183.85 137.11,183.64 138.69,183.45 140.27,183.26 141.85,183.08 143.44,182.91 145.02,182.75 146.60,182.59 148.18,182.44 149.76,182.30 151.34,182.16 152.92,182.03 154.50,181.91 156.08,181.79 157.67,181.67 159.25,181.57 160.83,181.46 162.41,181.36 163.99,181.27" fill="none" stroke="#272a85" stroke-width="1.5" stroke-linejoin="round"/>
<circle cx="71.30" cy="224.90" r="2.6" fill="#7e1b22" fill-opacity="0.58" stroke="#7e1b22" stroke-width="1.2"/>
<line x1="68.70" y1="224.90" x2="73.90" y2="224.90" stroke="#7e1b22" stroke-width="0.9" />
<line x1="71.30" y1="219.30" x2="71.30" y2="230.40" stroke="#7e1b22" stroke-width="1.0" />
<line x1="69.30" y1="219.30" x2="73.30" y2="219.30" stroke="#7e1b22" stroke-width="1.0" />
<line x1="69.30" y1="230.40" x2="73.30" y2="230.40" stroke="#7e1b22" stroke-width="1.0" />
<circle cx="87.80" cy="221.60" r="2.6" fill="#7e1b22" fill-opacity="0.58" stroke="#7e1b22" stroke-width="1.2"/>
<line x1="85.20" y1="221.60" x2="90.40" y2="221.60" stroke="#7e1b22" stroke-width="0.9" />
<line x1="87.80" y1="216.10" x2="87.80" y2="227.00" stroke="#7e1b22" stroke-width="1.0" />
<line x1="85.80" y1="216.10" x2="89.80" y2="216.10" stroke="#7e1b22" stroke-width="1.0" />
<line x1="85.80" y1="227.00" x2="89.80" y2="227.00" stroke="#7e1b22" stroke-width="1.0" />
<circle cx="94.20" cy="207.30" r="2.6" fill="#7e1b22" fill-opacity="0.58" stroke="#7e1b22" stroke-width="1.2"/>
<line x1="91.60" y1="207.30" x2="96.80" y2="207.30" stroke="#7e1b22" stroke-width="0.9" />
<line x1="94.20" y1="203.50" x2="94.20" y2="211.10" stroke="#7e1b22" stroke-width="1.0" />
<line x1="92.20" y1="203.50" x2="96.20" y2="203.50" stroke="#7e1b22" stroke-width="1.0" />
<line x1="92.20" y1="211.10" x2="96.20" y2="211.10" stroke="#7e1b22" stroke-width="1.0" />
<circle cx="100.60" cy="201.00" r="2.6" fill="#7e1b22" fill-opacity="0.58" stroke="#7e1b22" stroke-width="1.2"/>
<line x1="98.00" y1="201.00" x2="103.20" y2="201.00" stroke="#7e1b22" stroke-width="0.9" />
<line x1="100.60" y1="198.80" x2="100.60" y2="203.20" stroke="#7e1b22" stroke-width="1.0" />
<line x1="98.60" y1="198.80" x2="102.60" y2="198.80" stroke="#7e1b22" stroke-width="1.0" />
<line x1="98.60" y1="203.20" x2="102.60" y2="203.20" stroke="#7e1b22" stroke-width="1.0" />
<circle cx="106.80" cy="198.30" r="2.6" fill="#7e1b22" fill-opacity="0.58" stroke="#7e1b22" stroke-width="1.2"/>
<line x1="104.20" y1="198.30" x2="109.40" y2="198.30" stroke="#7e1b22" stroke-width="0.9" />
<line x1="106.80" y1="196.10" x2="106.80" y2="200.50" stroke="#7e1b22" stroke-width="1.0" />
<line x1="104.80" y1="196.10" x2="108.80" y2="196.10" stroke="#7e1b22" stroke-width="1.0" />
<line x1="104.80" y1="200.50" x2="108.80" y2="200.50" stroke="#7e1b22" stroke-width="1.0" />
<circle cx="113.30" cy="197.10" r="2.6" fill="#7e1b22" fill-opacity="0.58" stroke="#7e1b22" stroke-width="1.2"/>
<line x1="110.70" y1="197.10" x2="115.90" y2="197.10" stroke="#7e1b22" stroke-width="0.9" />
<line x1="113.30" y1="194.90" x2="113.30" y2="199.30" stroke="#7e1b22" stroke-width="1.0" />
<line x1="111.30" y1="194.90" x2="115.30" y2="194.90" stroke="#7e1b22" stroke-width="1.0" />
<line x1="111.30" y1="199.30" x2="115.30" y2="199.30" stroke="#7e1b22" stroke-width="1.0" />
<circle cx="119.40" cy="195.30" r="2.6" fill="#7e1b22" fill-opacity="0.58" stroke="#7e1b22" stroke-width="1.2"/>
<line x1="116.80" y1="195.30" x2="122.00" y2="195.30" stroke="#7e1b22" stroke-width="0.9" />
<line x1="119.40" y1="193.10" x2="119.40" y2="197.50" stroke="#7e1b22" stroke-width="1.0" />
<line x1="117.40" y1="193.10" x2="121.40" y2="193.10" stroke="#7e1b22" stroke-width="1.0" />
<line x1="117.40" y1="197.50" x2="121.40" y2="197.50" stroke="#7e1b22" stroke-width="1.0" />
<circle cx="126.20" cy="193.80" r="2.6" fill="#7e1b22" fill-opacity="0.58" stroke="#7e1b22" stroke-width="1.2"/>
<line x1="123.60" y1="193.80" x2="128.80" y2="193.80" stroke="#7e1b22" stroke-width="0.9" />
<line x1="126.20" y1="191.60" x2="126.20" y2="196.00" stroke="#7e1b22" stroke-width="1.0" />
<line x1="124.20" y1="191.60" x2="128.20" y2="191.60" stroke="#7e1b22" stroke-width="1.0" />
<line x1="124.20" y1="196.00" x2="128.20" y2="196.00" stroke="#7e1b22" stroke-width="1.0" />
<circle cx="132.50" cy="192.00" r="2.6" fill="#7e1b22" fill-opacity="0.58" stroke="#7e1b22" stroke-width="1.2"/>
<line x1="129.90" y1="192.00" x2="135.10" y2="192.00" stroke="#7e1b22" stroke-width="0.9" />
<line x1="132.50" y1="189.80" x2="132.50" y2="194.20" stroke="#7e1b22" stroke-width="1.0" />
<line x1="130.50" y1="189.80" x2="134.50" y2="189.80" stroke="#7e1b22" stroke-width="1.0" />
<line x1="130.50" y1="194.20" x2="134.50" y2="194.20" stroke="#7e1b22" stroke-width="1.0" />
<circle cx="138.50" cy="189.30" r="2.6" fill="#7e1b22" fill-opacity="0.58" stroke="#7e1b22" stroke-width="1.2"/>
<line x1="135.90" y1="189.30" x2="141.10" y2="189.30" stroke="#7e1b22" stroke-width="0.9" />
<line x1="138.50" y1="187.10" x2="138.50" y2="191.50" stroke="#7e1b22" stroke-width="1.0" />
<line x1="136.50" y1="187.10" x2="140.50" y2="187.10" stroke="#7e1b22" stroke-width="1.0" />
<line x1="136.50" y1="191.50" x2="140.50" y2="191.50" stroke="#7e1b22" stroke-width="1.0" />
<circle cx="144.30" cy="189.30" r="2.6" fill="#7e1b22" fill-opacity="0.58" stroke="#7e1b22" stroke-width="1.2"/>
<line x1="141.70" y1="189.30" x2="146.90" y2="189.30" stroke="#7e1b22" stroke-width="0.9" />
<line x1="144.30" y1="187.10" x2="144.30" y2="191.50" stroke="#7e1b22" stroke-width="1.0" />
<line x1="142.30" y1="187.10" x2="146.30" y2="187.10" stroke="#7e1b22" stroke-width="1.0" />
<line x1="142.30" y1="191.50" x2="146.30" y2="191.50" stroke="#7e1b22" stroke-width="1.0" />
<circle cx="150.60" cy="187.00" r="2.6" fill="#7e1b22" fill-opacity="0.58" stroke="#7e1b22" stroke-width="1.2"/>
<line x1="148.00" y1="187.00" x2="153.20" y2="187.00" stroke="#7e1b22" stroke-width="0.9" />
<line x1="150.60" y1="184.80" x2="150.60" y2="189.20" stroke="#7e1b22" stroke-width="1.0" />
<line x1="148.60" y1="184.80" x2="152.60" y2="184.80" stroke="#7e1b22" stroke-width="1.0" />
<line x1="148.60" y1="189.20" x2="152.60" y2="189.20" stroke="#7e1b22" stroke-width="1.0" />
<circle cx="67.70" cy="213.20" r="2.6" fill="#f2a33a" fill-opacity="0.58" stroke="#f2a33a" stroke-width="1.2"/>
<line x1="65.10" y1="213.20" x2="70.30" y2="213.20" stroke="#f2a33a" stroke-width="0.9" />
<line x1="67.70" y1="211.00" x2="67.70" y2="215.40" stroke="#f2a33a" stroke-width="1.0" />
<line x1="65.70" y1="211.00" x2="69.70" y2="211.00" stroke="#f2a33a" stroke-width="1.0" />
<line x1="65.70" y1="215.40" x2="69.70" y2="215.40" stroke="#f2a33a" stroke-width="1.0" />
<circle cx="79.30" cy="207.60" r="2.6" fill="#f2a33a" fill-opacity="0.58" stroke="#f2a33a" stroke-width="1.2"/>
<line x1="76.70" y1="207.60" x2="81.90" y2="207.60" stroke="#f2a33a" stroke-width="0.9" />
<line x1="79.30" y1="200.80" x2="79.30" y2="214.60" stroke="#f2a33a" stroke-width="1.0" />
<line x1="77.30" y1="200.80" x2="81.30" y2="200.80" stroke="#f2a33a" stroke-width="1.0" />
<line x1="77.30" y1="214.60" x2="81.30" y2="214.60" stroke="#f2a33a" stroke-width="1.0" />
<circle cx="86.60" cy="195.50" r="2.6" fill="#f2a33a" fill-opacity="0.58" stroke="#f2a33a" stroke-width="1.2"/>
<line x1="84.00" y1="195.50" x2="89.20" y2="195.50" stroke="#f2a33a" stroke-width="0.9" />
<line x1="86.60" y1="185.40" x2="86.60" y2="206.60" stroke="#f2a33a" stroke-width="1.0" />
<line x1="84.60" y1="185.40" x2="88.60" y2="185.40" stroke="#f2a33a" stroke-width="1.0" />
<line x1="84.60" y1="206.60" x2="88.60" y2="206.60" stroke="#f2a33a" stroke-width="1.0" />
<circle cx="93.20" cy="202.20" r="2.6" fill="#f2a33a" fill-opacity="0.58" stroke="#f2a33a" stroke-width="1.2"/>
<line x1="90.60" y1="202.20" x2="95.80" y2="202.20" stroke="#f2a33a" stroke-width="0.9" />
<line x1="93.20" y1="198.00" x2="93.20" y2="206.40" stroke="#f2a33a" stroke-width="1.0" />
<line x1="91.20" y1="198.00" x2="95.20" y2="198.00" stroke="#f2a33a" stroke-width="1.0" />
<line x1="91.20" y1="206.40" x2="95.20" y2="206.40" stroke="#f2a33a" stroke-width="1.0" />
<circle cx="100.10" cy="194.70" r="2.6" fill="#f2a33a" fill-opacity="0.58" stroke="#f2a33a" stroke-width="1.2"/>
<line x1="97.50" y1="194.70" x2="102.70" y2="194.70" stroke="#f2a33a" stroke-width="0.9" />
<line x1="100.10" y1="192.00" x2="100.10" y2="197.40" stroke="#f2a33a" stroke-width="1.0" />
<line x1="98.10" y1="192.00" x2="102.10" y2="192.00" stroke="#f2a33a" stroke-width="1.0" />
<line x1="98.10" y1="197.40" x2="102.10" y2="197.40" stroke="#f2a33a" stroke-width="1.0" />
<circle cx="106.80" cy="186.30" r="2.6" fill="#f2a33a" fill-opacity="0.58" stroke="#f2a33a" stroke-width="1.2"/>
<line x1="104.20" y1="186.30" x2="109.40" y2="186.30" stroke="#f2a33a" stroke-width="0.9" />
<line x1="106.80" y1="183.00" x2="106.80" y2="189.30" stroke="#f2a33a" stroke-width="1.0" />
<line x1="104.80" y1="183.00" x2="108.80" y2="183.00" stroke="#f2a33a" stroke-width="1.0" />
<line x1="104.80" y1="189.30" x2="108.80" y2="189.30" stroke="#f2a33a" stroke-width="1.0" />
<circle cx="113.30" cy="183.90" r="2.6" fill="#f2a33a" fill-opacity="0.58" stroke="#f2a33a" stroke-width="1.2"/>
<line x1="110.70" y1="183.90" x2="115.90" y2="183.90" stroke="#f2a33a" stroke-width="0.9" />
<line x1="113.30" y1="181.60" x2="113.30" y2="186.20" stroke="#f2a33a" stroke-width="1.0" />
<line x1="111.30" y1="181.60" x2="115.30" y2="181.60" stroke="#f2a33a" stroke-width="1.0" />
<line x1="111.30" y1="186.20" x2="115.30" y2="186.20" stroke="#f2a33a" stroke-width="1.0" />
<circle cx="132.50" cy="183.00" r="2.6" fill="#f2a33a" fill-opacity="0.58" stroke="#f2a33a" stroke-width="1.2"/>
<line x1="129.90" y1="183.00" x2="135.10" y2="183.00" stroke="#f2a33a" stroke-width="0.9" />
<line x1="132.50" y1="180.80" x2="132.50" y2="185.20" stroke="#f2a33a" stroke-width="1.0" />
<line x1="130.50" y1="180.80" x2="134.50" y2="180.80" stroke="#f2a33a" stroke-width="1.0" />
<line x1="130.50" y1="185.20" x2="134.50" y2="185.20" stroke="#f2a33a" stroke-width="1.0" />
<circle cx="138.80" cy="180.90" r="2.6" fill="#f2a33a" fill-opacity="0.58" stroke="#f2a33a" stroke-width="1.2"/>
<line x1="136.20" y1="180.90" x2="141.40" y2="180.90" stroke="#f2a33a" stroke-width="0.9" />
<line x1="138.80" y1="178.70" x2="138.80" y2="183.10" stroke="#f2a33a" stroke-width="1.0" />
<line x1="136.80" y1="178.70" x2="140.80" y2="178.70" stroke="#f2a33a" stroke-width="1.0" />
<line x1="136.80" y1="183.10" x2="140.80" y2="183.10" stroke="#f2a33a" stroke-width="1.0" />
<circle cx="145.20" cy="184.80" r="2.6" fill="#f2a33a" fill-opacity="0.58" stroke="#f2a33a" stroke-width="1.2"/>
<line x1="142.60" y1="184.80" x2="147.80" y2="184.80" stroke="#f2a33a" stroke-width="0.9" />
<line x1="145.20" y1="182.60" x2="145.20" y2="187.00" stroke="#f2a33a" stroke-width="1.0" />
<line x1="143.20" y1="182.60" x2="147.20" y2="182.60" stroke="#f2a33a" stroke-width="1.0" />
<line x1="143.20" y1="187.00" x2="147.20" y2="187.00" stroke="#f2a33a" stroke-width="1.0" />
<circle cx="151.10" cy="186.60" r="2.6" fill="#f2a33a" fill-opacity="0.58" stroke="#f2a33a" stroke-width="1.2"/>
<line x1="148.50" y1="186.60" x2="153.70" y2="186.60" stroke="#f2a33a" stroke-width="0.9" />
<line x1="151.10" y1="184.40" x2="151.10" y2="188.80" stroke="#f2a33a" stroke-width="1.0" />
<line x1="149.10" y1="184.40" x2="153.10" y2="184.40" stroke="#f2a33a" stroke-width="1.0" />
<line x1="149.10" y1="188.80" x2="153.10" y2="188.80" stroke="#f2a33a" stroke-width="1.0" />
<circle cx="43.10" cy="228.20" r="2.6" fill="#fff" fill-opacity="1" stroke="#272a85" stroke-width="1.2"/>
<line x1="43.10" y1="220.50" x2="43.10" y2="236.20" stroke="#272a85" stroke-width="1.0" />
<line x1="41.10" y1="220.50" x2="45.10" y2="220.50" stroke="#272a85" stroke-width="1.0" />
<line x1="41.10" y1="236.20" x2="45.10" y2="236.20" stroke="#272a85" stroke-width="1.0" />
<circle cx="54.80" cy="211.00" r="2.6" fill="#272a85" fill-opacity="0.58" stroke="#272a85" stroke-width="1.2"/>
<line x1="52.20" y1="211.00" x2="57.40" y2="211.00" stroke="#272a85" stroke-width="0.9" />
<line x1="54.80" y1="205.20" x2="54.80" y2="216.80" stroke="#272a85" stroke-width="1.0" />
<line x1="52.80" y1="205.20" x2="56.80" y2="205.20" stroke="#272a85" stroke-width="1.0" />
<line x1="52.80" y1="216.80" x2="56.80" y2="216.80" stroke="#272a85" stroke-width="1.0" />
<circle cx="75.20" cy="199.00" r="2.6" fill="#272a85" fill-opacity="0.58" stroke="#272a85" stroke-width="1.2"/>
<line x1="72.60" y1="199.00" x2="77.80" y2="199.00" stroke="#272a85" stroke-width="0.9" />
<line x1="75.20" y1="192.00" x2="75.20" y2="205.20" stroke="#272a85" stroke-width="1.0" />
<line x1="73.20" y1="192.00" x2="77.20" y2="192.00" stroke="#272a85" stroke-width="1.0" />
<line x1="73.20" y1="205.20" x2="77.20" y2="205.20" stroke="#272a85" stroke-width="1.0" />
<circle cx="82.30" cy="200.00" r="2.6" fill="#272a85" fill-opacity="0.58" stroke="#272a85" stroke-width="1.2"/>
<line x1="79.70" y1="200.00" x2="84.90" y2="200.00" stroke="#272a85" stroke-width="0.9" />
<line x1="82.30" y1="195.00" x2="82.30" y2="204.40" stroke="#272a85" stroke-width="1.0" />
<line x1="80.30" y1="195.00" x2="84.30" y2="195.00" stroke="#272a85" stroke-width="1.0" />
<line x1="80.30" y1="204.40" x2="84.30" y2="204.40" stroke="#272a85" stroke-width="1.0" />
<circle cx="86.90" cy="194.60" r="2.6" fill="#272a85" fill-opacity="0.58" stroke="#272a85" stroke-width="1.2"/>
<line x1="84.30" y1="194.60" x2="89.50" y2="194.60" stroke="#272a85" stroke-width="0.9" />
<line x1="86.90" y1="188.40" x2="86.90" y2="200.80" stroke="#272a85" stroke-width="1.0" />
<line x1="84.90" y1="188.40" x2="88.90" y2="188.40" stroke="#272a85" stroke-width="1.0" />
<line x1="84.90" y1="200.80" x2="88.90" y2="200.80" stroke="#272a85" stroke-width="1.0" />
<circle cx="93.90" cy="194.90" r="2.6" fill="#272a85" fill-opacity="0.58" stroke="#272a85" stroke-width="1.2"/>
<line x1="91.30" y1="194.90" x2="96.50" y2="194.90" stroke="#272a85" stroke-width="0.9" />
<line x1="93.90" y1="191.00" x2="93.90" y2="198.80" stroke="#272a85" stroke-width="1.0" />
<line x1="91.90" y1="191.00" x2="95.90" y2="191.00" stroke="#272a85" stroke-width="1.0" />
<line x1="91.90" y1="198.80" x2="95.90" y2="198.80" stroke="#272a85" stroke-width="1.0" />
<circle cx="99.60" cy="185.70" r="2.6" fill="#272a85" fill-opacity="0.58" stroke="#272a85" stroke-width="1.2"/>
<line x1="97.00" y1="185.70" x2="102.20" y2="185.70" stroke="#272a85" stroke-width="0.9" />
<line x1="99.60" y1="181.20" x2="99.60" y2="190.20" stroke="#272a85" stroke-width="1.0" />
<line x1="97.60" y1="181.20" x2="101.60" y2="181.20" stroke="#272a85" stroke-width="1.0" />
<line x1="97.60" y1="190.20" x2="101.60" y2="190.20" stroke="#272a85" stroke-width="1.0" />
<circle cx="107.30" cy="191.70" r="2.6" fill="#272a85" fill-opacity="0.58" stroke="#272a85" stroke-width="1.2"/>
<line x1="104.70" y1="191.70" x2="109.90" y2="191.70" stroke="#272a85" stroke-width="0.9" />
<line x1="107.30" y1="189.30" x2="107.30" y2="194.10" stroke="#272a85" stroke-width="1.0" />
<line x1="105.30" y1="189.30" x2="109.30" y2="189.30" stroke="#272a85" stroke-width="1.0" />
<line x1="105.30" y1="194.10" x2="109.30" y2="194.10" stroke="#272a85" stroke-width="1.0" />
<circle cx="113.30" cy="188.10" r="2.6" fill="#272a85" fill-opacity="0.58" stroke="#272a85" stroke-width="1.2"/>
<line x1="110.70" y1="188.10" x2="115.90" y2="188.10" stroke="#272a85" stroke-width="0.9" />
<line x1="113.30" y1="185.70" x2="113.30" y2="190.50" stroke="#272a85" stroke-width="1.0" />
<line x1="111.30" y1="185.70" x2="115.30" y2="185.70" stroke="#272a85" stroke-width="1.0" />
<line x1="111.30" y1="190.50" x2="115.30" y2="190.50" stroke="#272a85" stroke-width="1.0" />
<circle cx="119.40" cy="189.30" r="2.6" fill="#272a85" fill-opacity="0.58" stroke="#272a85" stroke-width="1.2"/>
<line x1="116.80" y1="189.30" x2="122.00" y2="189.30" stroke="#272a85" stroke-width="0.9" />
<line x1="119.40" y1="187.00" x2="119.40" y2="191.60" stroke="#272a85" stroke-width="1.0" />
<line x1="117.40" y1="187.00" x2="121.40" y2="187.00" stroke="#272a85" stroke-width="1.0" />
<line x1="117.40" y1="191.60" x2="121.40" y2="191.60" stroke="#272a85" stroke-width="1.0" />
<circle cx="125.90" cy="183.00" r="2.6" fill="#272a85" fill-opacity="0.58" stroke="#272a85" stroke-width="1.2"/>
<line x1="123.30" y1="183.00" x2="128.50" y2="183.00" stroke="#272a85" stroke-width="0.9" />
<line x1="125.90" y1="180.80" x2="125.90" y2="185.20" stroke="#272a85" stroke-width="1.0" />
<line x1="123.90" y1="180.80" x2="127.90" y2="180.80" stroke="#272a85" stroke-width="1.0" />
<line x1="123.90" y1="185.20" x2="127.90" y2="185.20" stroke="#272a85" stroke-width="1.0" />
<circle cx="132.50" cy="186.30" r="2.6" fill="#272a85" fill-opacity="0.58" stroke="#272a85" stroke-width="1.2"/>
<line x1="129.90" y1="186.30" x2="135.10" y2="186.30" stroke="#272a85" stroke-width="0.9" />
<line x1="132.50" y1="184.00" x2="132.50" y2="188.60" stroke="#272a85" stroke-width="1.0" />
<line x1="130.50" y1="184.00" x2="134.50" y2="184.00" stroke="#272a85" stroke-width="1.0" />
<line x1="130.50" y1="188.60" x2="134.50" y2="188.60" stroke="#272a85" stroke-width="1.0" />
<circle cx="138.80" cy="186.30" r="2.6" fill="#272a85" fill-opacity="0.58" stroke="#272a85" stroke-width="1.2"/>
<line x1="136.20" y1="186.30" x2="141.40" y2="186.30" stroke="#272a85" stroke-width="0.9" />
<line x1="138.80" y1="184.00" x2="138.80" y2="188.60" stroke="#272a85" stroke-width="1.0" />
<line x1="136.80" y1="184.00" x2="140.80" y2="184.00" stroke="#272a85" stroke-width="1.0" />
<line x1="136.80" y1="188.60" x2="140.80" y2="188.60" stroke="#272a85" stroke-width="1.0" />
<circle cx="145.20" cy="178.50" r="2.6" fill="#272a85" fill-opacity="0.58" stroke="#272a85" stroke-width="1.2"/>
<line x1="142.60" y1="178.50" x2="147.80" y2="178.50" stroke="#272a85" stroke-width="0.9" />
<line x1="145.20" y1="176.30" x2="145.20" y2="180.70" stroke="#272a85" stroke-width="1.0" />
<line x1="143.20" y1="176.30" x2="147.20" y2="176.30" stroke="#272a85" stroke-width="1.0" />
<line x1="143.20" y1="180.70" x2="147.20" y2="180.70" stroke="#272a85" stroke-width="1.0" />
<circle cx="151.10" cy="179.80" r="2.6" fill="#272a85" fill-opacity="0.58" stroke="#272a85" stroke-width="1.2"/>
<line x1="148.50" y1="179.80" x2="153.70" y2="179.80" stroke="#272a85" stroke-width="0.9" />
<line x1="151.10" y1="177.60" x2="151.10" y2="182.00" stroke="#272a85" stroke-width="1.0" />
<line x1="149.10" y1="177.60" x2="153.10" y2="177.60" stroke="#272a85" stroke-width="1.0" />
<line x1="149.10" y1="182.00" x2="153.10" y2="182.00" stroke="#272a85" stroke-width="1.0" />
<circle cx="107.30" cy="216.00" r="2.1" fill="#fff" fill-opacity="1" stroke="#272a85" stroke-width="1.2"/>
<text x="113.70" y="219.00" font-size="8.25" text-anchor="start" font-weight="normal" fill="#0a0a0a" >Wild-type</text>
<circle cx="107.30" cy="228.40" r="2.1" fill="#fff" fill-opacity="1" stroke="#7e1b22" stroke-width="1.2"/>
<text x="113.70" y="231.40" font-size="8.25" text-anchor="start" font-weight="normal" fill="#0a0a0a" >G131Y</text>
<circle cx="107.30" cy="240.70" r="2.1" fill="#fff" fill-opacity="1" stroke="#f2a33a" stroke-width="1.2"/>
<text x="113.70" y="243.70" font-size="8.25" text-anchor="start" font-weight="normal" fill="#0a0a0a" >L223R/</text>
<text x="113.70" y="254.10" font-size="8.25" text-anchor="start" font-weight="normal" fill="#0a0a0a" >L254R/V255R</text>
<text x="233.30" y="163.60" font-size="14" text-anchor="start" font-weight="bold" fill="#000" >d</text>
<text x="234.70" y="185.50" font-size="9.6" text-anchor="start" font-weight="normal" fill="#0a0a0a" >m-ephrinA1</text>
<text x="299.10" y="176.10" font-size="6.6" text-anchor="middle" font-weight="normal" fill="#0a0a0a" >V</text>
<text x="299.10" y="185.60" font-size="7.2" text-anchor="middle" font-weight="normal" fill="#0a0a0a" >+</text>
<text x="321.20" y="176.10" font-size="6.6" text-anchor="middle" font-weight="normal" fill="#0a0a0a" >WT</text>
<text x="321.20" y="185.60" font-size="7.2" text-anchor="middle" font-weight="normal" fill="#0a0a0a" >+</text>
<text x="343.70" y="159.50" font-size="6.6" text-anchor="middle" font-weight="normal" fill="#0a0a0a" >L233R</text>
<text x="343.70" y="167.80" font-size="6.6" text-anchor="middle" font-weight="normal" fill="#0a0a0a" >L254R</text>
<text x="343.70" y="176.10" font-size="6.6" text-anchor="middle" font-weight="normal" fill="#0a0a0a" >V255R</text>
<text x="343.70" y="185.60" font-size="7.2" text-anchor="middle" font-weight="normal" fill="#0a0a0a" >+</text>
<text x="369.60" y="176.10" font-size="6.6" text-anchor="middle" font-weight="normal" fill="#0a0a0a" >G131Y</text>
<text x="369.60" y="185.60" font-size="7.2" text-anchor="middle" font-weight="normal" fill="#0a0a0a" >+</text>
<rect x="288.3" y="187.9" width="91.4" height="54.3" fill="#f1f1f1"/>
<rect x="288.3" y="246.5" width="91.4" height="53.3" fill="#f1f1f1"/>
<linearGradient id="g1" x1="0" y1="0" x2="0" y2="1"><stop offset="0" stop-color="#f1f1f1"/><stop offset="0.5" stop-color="#e4e4e4"/><stop offset="1" stop-color="#cacaca"/></linearGradient>
<filter id="f1" x="-50%" y="-80%" width="200%" height="260%"><feGaussianBlur stdDeviation="1.2 2.0"/></filter>
<rect x="312.50" y="196.00" width="18.00" height="17.00" fill="url(#g1)" fill-opacity="1.0" filter="url(#f1)"/>
<linearGradient id="g2" x1="0" y1="0" x2="1" y2="0"><stop offset="0" stop-color="#dadada"/><stop offset="1" stop-color="#bcbcbc"/></linearGradient>
<filter id="f2" x="-50%" y="-80%" width="200%" height="260%"><feGaussianBlur stdDeviation="0.8 2.0"/></filter>
<rect x="312.00" y="199.00" width="2.00" height="13.00" fill="url(#g2)" fill-opacity="0.8" filter="url(#f2)"/>
<linearGradient id="g3" x1="0" y1="0" x2="1" y2="0"><stop offset="0" stop-color="#d6d6d6"/><stop offset="1" stop-color="#b8b8b8"/></linearGradient>
<filter id="f3" x="-50%" y="-80%" width="200%" height="260%"><feGaussianBlur stdDeviation="0.8 2.0"/></filter>
<rect x="328.20" y="199.00" width="2.00" height="13.00" fill="url(#g3)" fill-opacity="0.8" filter="url(#f3)"/>
<linearGradient id="g4" x1="0" y1="0" x2="1" y2="0"><stop offset="0" stop-color="#8a8a8a"/><stop offset="0.5" stop-color="#787878"/><stop offset="0.85" stop-color="#5a5a5a"/><stop offset="1" stop-color="#686868"/></linearGradient>
<filter id="f4" x="-50%" y="-80%" width="200%" height="260%"><feGaussianBlur stdDeviation="1.0 1.4"/></filter>
<rect x="312.20" y="211.60" width="18.60" height="7.20" fill="url(#g4)" fill-opacity="1.0" filter="url(#f4)"/>
<linearGradient id="g5" x1="0" y1="0" x2="1" y2="0"><stop offset="0" stop-color="#a0a0a0"/><stop offset="0.6" stop-color="#7e7e7e"/><stop offset="0.9" stop-color="#5c5c5c"/><stop offset="1" stop-color="#6c6c6c"/></linearGradient>
<filter id="f5" x="-50%" y="-80%" width="200%" height="260%"><feGaussianBlur stdDeviation="1.0 1.3"/></filter>
<rect x="334.80" y="214.20" width="19.00" height="6.40" fill="url(#g5)" fill-opacity="1.0" filter="url(#f5)"/>
<linearGradient id="g6" x1="0" y1="0" x2="1" y2="0"><stop offset="0" stop-color="#b4b4b4"/><stop offset="0.5" stop-color="#a4a4a4"/><stop offset="1" stop-color="#a6a6a6"/></linearGradient>
<filter id="f6" x="-50%" y="-80%" width="200%" height="260%"><feGaussianBlur stdDeviation="1.0 1.2"/></filter>
<rect x="357.20" y="215.80" width="19.80" height="5.40" fill="url(#g6)" fill-opacity="1.0" filter="url(#f6)"/>
<linearGradient id="g7" x1="0" y1="0" x2="0" y2="1"><stop offset="0" stop-color="#f1f1f1"/><stop offset="0.5" stop-color="#ebebeb"/><stop offset="1" stop-color="#dcdcdc"/></linearGradient>
<filter id="f7" x="-50%" y="-80%" width="200%" height="260%"><feGaussianBlur stdDeviation="1.2 1.8"/></filter>
<rect x="311.80" y="262.50" width="18.40" height="9.50" fill="url(#g7)" fill-opacity="1.0" filter="url(#f7)"/>
<linearGradient id="g8" x1="0" y1="0" x2="1" y2="0"><stop offset="0" stop-color="#dedede"/><stop offset="1" stop-color="#c8c8c8"/></linearGradient>
<filter id="f8" x="-50%" y="-80%" width="200%" height="260%"><feGaussianBlur stdDeviation="0.8 1.6"/></filter>
<rect x="311.30" y="263.00" width="2.00" height="9.00" fill="url(#g8)" fill-opacity="0.7" filter="url(#f8)"/>
<linearGradient id="g9" x1="0" y1="0" x2="1" y2="0"><stop offset="0" stop-color="#dedede"/><stop offset="1" stop-color="#c8c8c8"/></linearGradient>
<filter id="f9" x="-50%" y="-80%" width="200%" height="260%"><feGaussianBlur stdDeviation="0.8 1.6"/></filter>
<rect x="328.20" y="263.00" width="2.00" height="9.00" fill="url(#g9)" fill-opacity="0.7" filter="url(#f9)"/>
<linearGradient id="g10" x1="0" y1="0" x2="1" y2="0"><stop offset="0" stop-color="#8c8c8c"/><stop offset="0.5" stop-color="#808080"/><stop offset="1" stop-color="#7a7a7a"/></linearGradient>
<filter id="f10" x="-50%" y="-80%" width="200%" height="260%"><feGaussianBlur stdDeviation="1.0 1.4"/></filter>
<rect x="311.50" y="270.80" width="18.80" height="7.80" fill="url(#g10)" fill-opacity="1.0" filter="url(#f10)"/>
<linearGradient id="g11" x1="0" y1="0" x2="1" y2="0"><stop offset="0" stop-color="#8c8c8c"/><stop offset="0.5" stop-color="#848484"/><stop offset="1" stop-color="#7c7c7c"/></linearGradient>
<filter id="f11" x="-50%" y="-80%" width="200%" height="260%"><feGaussianBlur stdDeviation="1.0 1.2"/></filter>
<rect x="334.20" y="273.60" width="19.00" height="6.00" fill="url(#g11)" fill-opacity="1.0" filter="url(#f11)"/>
<linearGradient id="g12" x1="0" y1="0" x2="1" y2="0"><stop offset="0" stop-color="#8c8c8c"/><stop offset="0.5" stop-color="#848484"/><stop offset="1" stop-color="#7e7e7e"/></linearGradient>
<filter id="f12" x="-50%" y="-80%" width="200%" height="260%"><feGaussianBlur stdDeviation="1.0 1.2"/></filter>
<rect x="357.20" y="273.60" width="19.40" height="6.00" fill="url(#g12)" fill-opacity="1.0" filter="url(#f12)"/>
<text x="259.60" y="221.40" font-size="9.3" text-anchor="middle" font-weight="normal" fill="#0a0a0a" >p-Y772</text>
<text x="259.90" y="279.60" font-size="9.3" text-anchor="middle" font-weight="normal" fill="#0a0a0a" >EphA2</text>
<line x1="381.50" y1="213.40" x2="403.80" y2="213.40" stroke="#111" stroke-width="1.4" />
<line x1="381.50" y1="275.60" x2="403.80" y2="275.60" stroke="#111" stroke-width="1.4" />
<text x="408.50" y="216.90" font-size="9.55" text-anchor="start" font-weight="normal" fill="#0a0a0a" >171 kDa</text>
<text x="408.50" y="277.70" font-size="9.55" text-anchor="start" font-weight="normal" fill="#0a0a0a" >171 kDa</text>
<text x="237.90" y="329.10" font-size="14" text-anchor="start" font-weight="bold" fill="#000" >f</text>
<text x="240.60" y="355.80" font-size="9.5" text-anchor="start" font-weight="normal" fill="#0a0a0a" >m-ephrinA1</text>
<text x="308.00" y="345.40" font-size="7.0" text-anchor="middle" font-weight="normal" fill="#0a0a0a" >WT</text>
<text x="308.00" y="356.60" font-size="9.0" text-anchor="middle" font-weight="bold" fill="#0a0a0a" >+</text>
<text x="329.90" y="329.20" font-size="7.0" text-anchor="middle" font-weight="normal" fill="#0a0a0a" >L233R</text>
<text x="329.90" y="337.30" font-size="7.0" text-anchor="middle" font-weight="normal" fill="#0a0a0a" >L254R</text>
<text x="329.90" y="345.40" font-size="7.0" text-anchor="middle" font-weight="normal" fill="#0a0a0a" >V255R</text>
<text x="329.90" y="356.60" font-size="9.0" text-anchor="middle" font-weight="bold" fill="#0a0a0a" >+</text>
<text x="354.20" y="345.40" font-size="7.0" text-anchor="middle" font-weight="normal" fill="#0a0a0a" >G131Y</text>
<text x="354.20" y="356.60" font-size="9.0" text-anchor="middle" font-weight="bold" fill="#0a0a0a" >+</text>
<rect x="294.2" y="361.6" width="72.6" height="54.4" fill="#f0f0f0"/>
<rect x="294.2" y="420.4" width="72.6" height="54.0" fill="#f1f1f1"/>
<rect x="311.6" y="391.1" width="0.9" height="0.9" fill="rgb(188,188,188)" fill-opacity="0.5"/>
<rect x="360.4" y="387.4" width="0.9" height="0.9" fill="rgb(202,202,202)" fill-opacity="0.5"/>
<rect x="299.2" y="362.7" width="0.9" height="0.9" fill="rgb(218,218,218)" fill-opacity="0.5"/>
<rect x="328.3" y="391.5" width="0.9" height="0.9" fill="rgb(177,177,177)" fill-opacity="0.5"/>
<rect x="366.2" y="387.2" width="0.9" height="0.9" fill="rgb(218,218,218)" fill-opacity="0.5"/>
<rect x="334.1" y="383.2" width="0.9" height="0.9" fill="rgb(220,220,220)" fill-opacity="0.5"/>
<rect x="305.3" y="396.0" width="0.9" height="0.9" fill="rgb(220,220,220)" fill-opacity="0.5"/>
<rect x="361.2" y="382.9" width="0.9" height="0.9" fill="rgb(165,165,165)" fill-opacity="0.5"/>
<rect x="342.8" y="365.4" width="0.9" height="0.9" fill="rgb(213,213,213)" fill-opacity="0.5"/>
<rect x="363.4" y="364.3" width="0.9" height="0.9" fill="rgb(214,214,214)" fill-opacity="0.5"/>
<rect x="296.7" y="408.3" width="0.9" height="0.9" fill="rgb(195,195,195)" fill-opacity="0.5"/>
<rect x="337.3" y="411.2" width="0.9" height="0.9" fill="rgb(189,189,189)" fill-opacity="0.5"/>
<rect x="345.9" y="411.3" width="0.9" height="0.9" fill="rgb(190,190,190)" fill-opacity="0.5"/>
<rect x="346.9" y="392.9" width="0.9" height="0.9" fill="rgb(173,173,173)" fill-opacity="0.5"/>
<rect x="357.8" y="367.2" width="0.9" height="0.9" fill="rgb(173,173,173)" fill-opacity="0.5"/>
<rect x="330.1" y="375.8" width="0.9" height="0.9" fill="rgb(208,208,208)" fill-opacity="0.5"/>
<rect x="325.9" y="395.5" width="0.9" height="0.9" fill="rgb(184,184,184)" fill-opacity="0.5"/>
<rect x="324.8" y="406.6" width="0.9" height="0.9" fill="rgb(201,201,201)" fill-opacity="0.5"/>
<rect x="319.8" y="393.3" width="0.9" height="0.9" fill="rgb(202,202,202)" fill-opacity="0.5"/>
<rect x="311.2" y="380.0" width="0.9" height="0.9" fill="rgb(166,166,166)" fill-opacity="0.5"/>
<rect x="356.2" y="415.0" width="0.9" height="0.9" fill="rgb(207,207,207)" fill-opacity="0.5"/>
<rect x="344.6" y="399.4" width="0.9" height="0.9" fill="rgb(185,185,185)" fill-opacity="0.5"/>
<rect x="364.0" y="410.4" width="0.9" height="0.9" fill="rgb(201,201,201)" fill-opacity="0.5"/>
<rect x="302.0" y="397.1" width="0.9" height="0.9" fill="rgb(205,205,205)" fill-opacity="0.5"/>
<rect x="354.4" y="392.7" width="0.9" height="0.9" fill="rgb(183,183,183)" fill-opacity="0.5"/>
<rect x="303.5" y="387.8" width="0.9" height="0.9" fill="rgb(205,205,205)" fill-opacity="0.5"/>
<rect x="365.8" y="366.7" width="0.9" height="0.9" fill="rgb(216,216,216)" fill-opacity="0.5"/>
<rect x="299.3" y="410.0" width="0.9" height="0.9" fill="rgb(166,166,166)" fill-opacity="0.5"/>
<rect x="315.7" y="403.1" width="0.9" height="0.9" fill="rgb(220,220,220)" fill-opacity="0.5"/>
<rect x="303.1" y="394.4" width="0.9" height="0.9" fill="rgb(213,213,213)" fill-opacity="0.5"/>
<rect x="297.7" y="400.4" width="0.9" height="0.9" fill="rgb(186,186,186)" fill-opacity="0.5"/>
<rect x="334.2" y="411.3" width="0.9" height="0.9" fill="rgb(182,182,182)" fill-opacity="0.5"/>
<rect x="330.9" y="415.4" width="0.9" height="0.9" fill="rgb(184,184,184)" fill-opacity="0.5"/>
<rect x="295.0" y="367.8" width="0.9" height="0.9" fill="rgb(199,199,199)" fill-opacity="0.5"/>
<rect x="296.8" y="372.6" width="0.9" height="0.9" fill="rgb(191,191,191)" fill-opacity="0.5"/>
<rect x="315.5" y="376.1" width="0.9" height="0.9" fill="rgb(209,209,209)" fill-opacity="0.5"/>
<rect x="297.6" y="408.4" width="0.9" height="0.9" fill="rgb(185,185,185)" fill-opacity="0.5"/>
<rect x="320.4" y="369.4" width="0.9" height="0.9" fill="rgb(220,220,220)" fill-opacity="0.5"/>
<rect x="321.7" y="386.6" width="0.9" height="0.9" fill="rgb(198,198,198)" fill-opacity="0.5"/>
<rect x="322.3" y="408.4" width="0.9" height="0.9" fill="rgb(208,208,208)" fill-opacity="0.5"/>
<rect x="334.8" y="395.2" width="0.9" height="0.9" fill="rgb(216,216,216)" fill-opacity="0.5"/>
<rect x="331.0" y="385.1" width="0.9" height="0.9" fill="rgb(211,211,211)" fill-opacity="0.5"/>
<rect x="346.0" y="412.1" width="0.9" height="0.9" fill="rgb(192,192,192)" fill-opacity="0.5"/>
<rect x="364.9" y="389.9" width="0.9" height="0.9" fill="rgb(200,200,200)" fill-opacity="0.5"/>
<rect x="318.9" y="404.2" width="0.9" height="0.9" fill="rgb(202,202,202)" fill-opacity="0.5"/>
<rect x="317.2" y="382.1" width="0.9" height="0.9" fill="rgb(202,202,202)" fill-opacity="0.5"/>
<rect x="340.0" y="365.2" width="0.9" height="0.9" fill="rgb(205,205,205)" fill-opacity="0.5"/>
<rect x="318.4" y="380.9" width="0.9" height="0.9" fill="rgb(187,187,187)" fill-opacity="0.5"/>
<rect x="338.3" y="376.9" width="0.9" height="0.9" fill="rgb(196,196,196)" fill-opacity="0.5"/>
<rect x="296.1" y="365.2" width="0.9" height="0.9" fill="rgb(208,208,208)" fill-opacity="0.5"/>
<rect x="296.0" y="381.8" width="0.9" height="0.9" fill="rgb(205,205,205)" fill-opacity="0.5"/>
<rect x="327.4" y="393.7" width="0.9" height="0.9" fill="rgb(185,185,185)" fill-opacity="0.5"/>
<rect x="307.3" y="371.9" width="0.9" height="0.9" fill="rgb(213,213,213)" fill-opacity="0.5"/>
<rect x="321.1" y="393.9" width="0.9" height="0.9" fill="rgb(184,184,184)" fill-opacity="0.5"/>
<rect x="351.2" y="367.6" width="0.9" height="0.9" fill="rgb(217,217,217)" fill-opacity="0.5"/>
<rect x="296.4" y="392.5" width="0.9" height="0.9" fill="rgb(212,212,212)" fill-opacity="0.5"/>
<rect x="304.0" y="388.8" width="0.9" height="0.9" fill="rgb(206,206,206)" fill-opacity="0.5"/>
<rect x="352.4" y="374.8" width="0.9" height="0.9" fill="rgb(176,176,176)" fill-opacity="0.5"/>
<rect x="343.3" y="396.8" width="0.9" height="0.9" fill="rgb(171,171,171)" fill-opacity="0.5"/>
<rect x="301.8" y="379.2" width="0.9" height="0.9" fill="rgb(186,186,186)" fill-opacity="0.5"/>
<rect x="343.1" y="374.0" width="0.9" height="0.9" fill="rgb(216,216,216)" fill-opacity="0.5"/>
<rect x="356.1" y="371.1" width="0.9" height="0.9" fill="rgb(186,186,186)" fill-opacity="0.5"/>
<rect x="347.9" y="373.7" width="0.9" height="0.9" fill="rgb(201,201,201)" fill-opacity="0.5"/>
<rect x="327.0" y="374.0" width="0.9" height="0.9" fill="rgb(172,172,172)" fill-opacity="0.5"/>
<rect x="296.9" y="413.2" width="0.9" height="0.9" fill="rgb(185,185,185)" fill-opacity="0.5"/>
<rect x="352.6" y="406.9" width="0.9" height="0.9" fill="rgb(176,176,176)" fill-opacity="0.5"/>
<rect x="356.7" y="380.2" width="0.9" height="0.9" fill="rgb(217,217,217)" fill-opacity="0.5"/>
<rect x="340.7" y="405.1" width="0.9" height="0.9" fill="rgb(187,187,187)" fill-opacity="0.5"/>
<rect x="336.9" y="384.5" width="0.9" height="0.9" fill="rgb(198,198,198)" fill-opacity="0.5"/>
<rect x="351.7" y="376.5" width="0.9" height="0.9" fill="rgb(187,187,187)" fill-opacity="0.5"/>
<rect x="340.2" y="377.5" width="0.9" height="0.9" fill="rgb(201,201,201)" fill-opacity="0.5"/>
<rect x="324.0" y="411.3" width="0.9" height="0.9" fill="rgb(174,174,174)" fill-opacity="0.5"/>
<rect x="308.9" y="387.5" width="0.9" height="0.9" fill="rgb(218,218,218)" fill-opacity="0.5"/>
<rect x="357.9" y="414.8" width="0.9" height="0.9" fill="rgb(192,192,192)" fill-opacity="0.5"/>
<rect x="334.7" y="414.7" width="0.9" height="0.9" fill="rgb(210,210,210)" fill-opacity="0.5"/>
<rect x="310.5" y="401.9" width="0.9" height="0.9" fill="rgb(218,218,218)" fill-opacity="0.5"/>
<rect x="348.7" y="402.0" width="0.9" height="0.9" fill="rgb(183,183,183)" fill-opacity="0.5"/>
<rect x="333.7" y="409.6" width="0.9" height="0.9" fill="rgb(220,220,220)" fill-opacity="0.5"/>
<rect x="299.4" y="393.5" width="0.9" height="0.9" fill="rgb(183,183,183)" fill-opacity="0.5"/>
<rect x="303.1" y="375.1" width="0.9" height="0.9" fill="rgb(167,167,167)" fill-opacity="0.5"/>
<rect x="359.6" y="399.1" width="0.9" height="0.9" fill="rgb(177,177,177)" fill-opacity="0.5"/>
<rect x="359.1" y="410.1" width="0.9" height="0.9" fill="rgb(201,201,201)" fill-opacity="0.5"/>
<rect x="298.1" y="387.7" width="0.9" height="0.9" fill="rgb(172,172,172)" fill-opacity="0.5"/>
<rect x="306.9" y="378.0" width="0.9" height="0.9" fill="rgb(207,207,207)" fill-opacity="0.5"/>
<rect x="295.9" y="390.7" width="0.9" height="0.9" fill="rgb(168,168,168)" fill-opacity="0.5"/>
<rect x="362.1" y="394.8" width="0.9" height="0.9" fill="rgb(186,186,186)" fill-opacity="0.5"/>
<rect x="303.5" y="414.0" width="0.9" height="0.9" fill="rgb(199,199,199)" fill-opacity="0.5"/>
<rect x="328.9" y="403.9" width="0.9" height="0.9" fill="rgb(187,187,187)" fill-opacity="0.5"/>
<rect x="310.4" y="368.5" width="0.9" height="0.9" fill="rgb(217,217,217)" fill-opacity="0.5"/>
<rect x="303.1" y="374.8" width="0.9" height="0.9" fill="rgb(182,182,182)" fill-opacity="0.5"/>
<rect x="360.9" y="405.1" width="0.9" height="0.9" fill="rgb(217,217,217)" fill-opacity="0.5"/>
<rect x="360.8" y="388.1" width="0.9" height="0.9" fill="rgb(201,201,201)" fill-opacity="0.5"/>
<rect x="356.6" y="364.7" width="0.9" height="0.9" fill="rgb(182,182,182)" fill-opacity="0.5"/>
<rect x="312.4" y="395.1" width="0.9" height="0.9" fill="rgb(198,198,198)" fill-opacity="0.5"/>
<rect x="325.0" y="387.3" width="0.9" height="0.9" fill="rgb(214,214,214)" fill-opacity="0.5"/>
<rect x="353.5" y="407.9" width="0.9" height="0.9" fill="rgb(214,214,214)" fill-opacity="0.5"/>
<rect x="303.6" y="368.7" width="0.9" height="0.9" fill="rgb(169,169,169)" fill-opacity="0.5"/>
<rect x="329.3" y="363.8" width="0.9" height="0.9" fill="rgb(210,210,210)" fill-opacity="0.5"/>
<rect x="300.7" y="388.9" width="0.9" height="0.9" fill="rgb(185,185,185)" fill-opacity="0.5"/>
<rect x="305.8" y="365.8" width="0.9" height="0.9" fill="rgb(189,189,189)" fill-opacity="0.5"/>
<rect x="341.1" y="393.4" width="0.9" height="0.9" fill="rgb(188,188,188)" fill-opacity="0.5"/>
<rect x="313.6" y="414.9" width="0.9" height="0.9" fill="rgb(192,192,192)" fill-opacity="0.5"/>
<rect x="303.4" y="391.7" width="0.9" height="0.9" fill="rgb(210,210,210)" fill-opacity="0.5"/>
<rect x="346.6" y="404.5" width="0.9" height="0.9" fill="rgb(201,201,201)" fill-opacity="0.5"/>
<rect x="307.4" y="382.0" width="0.9" height="0.9" fill="rgb(203,203,203)" fill-opacity="0.5"/>
<rect x="341.3" y="391.0" width="0.9" height="0.9" fill="rgb(205,205,205)" fill-opacity="0.5"/>
<rect x="352.2" y="395.3" width="0.9" height="0.9" fill="rgb(192,192,192)" fill-opacity="0.5"/>
<rect x="298.3" y="395.6" width="0.9" height="0.9" fill="rgb(213,213,213)" fill-opacity="0.5"/>
<rect x="345.1" y="384.5" width="0.9" height="0.9" fill="rgb(209,209,209)" fill-opacity="0.5"/>
<rect x="324.6" y="363.0" width="0.9" height="0.9" fill="rgb(178,178,178)" fill-opacity="0.5"/>
<rect x="333.1" y="399.2" width="0.9" height="0.9" fill="rgb(169,169,169)" fill-opacity="0.5"/>
<rect x="352.3" y="374.0" width="0.9" height="0.9" fill="rgb(173,173,173)" fill-opacity="0.5"/>
<rect x="357.8" y="412.1" width="0.9" height="0.9" fill="rgb(188,188,188)" fill-opacity="0.5"/>
<rect x="364.3" y="391.9" width="0.9" height="0.9" fill="rgb(220,220,220)" fill-opacity="0.5"/>
<rect x="313.4" y="386.8" width="0.9" height="0.9" fill="rgb(172,172,172)" fill-opacity="0.5"/>
<rect x="362.1" y="401.1" width="0.9" height="0.9" fill="rgb(219,219,219)" fill-opacity="0.5"/>
<rect x="358.4" y="404.4" width="0.9" height="0.9" fill="rgb(207,207,207)" fill-opacity="0.5"/>
<rect x="302.3" y="379.0" width="0.9" height="0.9" fill="rgb(199,199,199)" fill-opacity="0.5"/>
<rect x="301.9" y="393.4" width="0.9" height="0.9" fill="rgb(165,165,165)" fill-opacity="0.5"/>
<rect x="328.6" y="374.6" width="0.9" height="0.9" fill="rgb(189,189,189)" fill-opacity="0.5"/>
<rect x="297.7" y="366.9" width="0.9" height="0.9" fill="rgb(171,171,171)" fill-opacity="0.5"/>
<rect x="342.0" y="382.1" width="0.9" height="0.9" fill="rgb(217,217,217)" fill-opacity="0.5"/>
<rect x="296.2" y="407.0" width="0.9" height="0.9" fill="rgb(172,172,172)" fill-opacity="0.5"/>
<rect x="296.3" y="368.2" width="0.9" height="0.9" fill="rgb(195,195,195)" fill-opacity="0.5"/>
<rect x="354.7" y="413.0" width="0.9" height="0.9" fill="rgb(202,202,202)" fill-opacity="0.5"/>
<rect x="316.1" y="366.8" width="0.9" height="0.9" fill="rgb(214,214,214)" fill-opacity="0.5"/>
<rect x="335.1" y="390.3" width="0.9" height="0.9" fill="rgb(180,180,180)" fill-opacity="0.5"/>
<rect x="302.2" y="402.1" width="0.9" height="0.9" fill="rgb(200,200,200)" fill-opacity="0.5"/>
<rect x="298.9" y="379.3" width="0.9" height="0.9" fill="rgb(201,201,201)" fill-opacity="0.5"/>
<rect x="307.5" y="366.1" width="0.9" height="0.9" fill="rgb(176,176,176)" fill-opacity="0.5"/>
<rect x="341.0" y="386.3" width="0.9" height="0.9" fill="rgb(209,209,209)" fill-opacity="0.5"/>
<rect x="348.8" y="383.1" width="0.9" height="0.9" fill="rgb(188,188,188)" fill-opacity="0.5"/>
<rect x="337.7" y="412.2" width="0.9" height="0.9" fill="rgb(200,200,200)" fill-opacity="0.5"/>
<rect x="324.6" y="366.5" width="0.9" height="0.9" fill="rgb(197,197,197)" fill-opacity="0.5"/>
<rect x="311.4" y="411.7" width="0.9" height="0.9" fill="rgb(218,218,218)" fill-opacity="0.5"/>
<rect x="348.3" y="370.6" width="0.9" height="0.9" fill="rgb(209,209,209)" fill-opacity="0.5"/>
<rect x="335.4" y="393.0" width="0.9" height="0.9" fill="rgb(198,198,198)" fill-opacity="0.5"/>
<rect x="343.9" y="370.4" width="0.9" height="0.9" fill="rgb(190,190,190)" fill-opacity="0.5"/>
<rect x="359.1" y="370.0" width="0.9" height="0.9" fill="rgb(171,171,171)" fill-opacity="0.5"/>
<rect x="330.4" y="387.9" width="0.9" height="0.9" fill="rgb(209,209,209)" fill-opacity="0.5"/>
<rect x="331.7" y="444.5" width="0.9" height="0.9" fill="rgb(201,201,201)" fill-opacity="0.4"/>
<rect x="304.3" y="460.9" width="0.9" height="0.9" fill="rgb(199,199,199)" fill-opacity="0.4"/>
<rect x="336.7" y="437.7" width="0.9" height="0.9" fill="rgb(204,204,204)" fill-opacity="0.4"/>
<rect x="355.8" y="449.5" width="0.9" height="0.9" fill="rgb(208,208,208)" fill-opacity="0.4"/>
<rect x="342.8" y="466.3" width="0.9" height="0.9" fill="rgb(207,207,207)" fill-opacity="0.4"/>
<rect x="358.5" y="437.3" width="0.9" height="0.9" fill="rgb(207,207,207)" fill-opacity="0.4"/>
<rect x="329.0" y="441.3" width="0.9" height="0.9" fill="rgb(201,201,201)" fill-opacity="0.4"/>
<rect x="335.5" y="433.7" width="0.9" height="0.9" fill="rgb(220,220,220)" fill-opacity="0.4"/>
<rect x="350.2" y="428.6" width="0.9" height="0.9" fill="rgb(220,220,220)" fill-opacity="0.4"/>
<rect x="345.0" y="431.9" width="0.9" height="0.9" fill="rgb(225,225,225)" fill-opacity="0.4"/>
<rect x="296.5" y="473.6" width="0.9" height="0.9" fill="rgb(194,194,194)" fill-opacity="0.4"/>
<rect x="356.2" y="442.2" width="0.9" height="0.9" fill="rgb(192,192,192)" fill-opacity="0.4"/>
<rect x="328.2" y="433.2" width="0.9" height="0.9" fill="rgb(205,205,205)" fill-opacity="0.4"/>
<rect x="341.2" y="462.2" width="0.9" height="0.9" fill="rgb(194,194,194)" fill-opacity="0.4"/>
<rect x="363.5" y="466.3" width="0.9" height="0.9" fill="rgb(205,205,205)" fill-opacity="0.4"/>
<rect x="358.6" y="462.1" width="0.9" height="0.9" fill="rgb(198,198,198)" fill-opacity="0.4"/>
<rect x="308.0" y="458.4" width="0.9" height="0.9" fill="rgb(192,192,192)" fill-opacity="0.4"/>
<rect x="359.3" y="434.5" width="0.9" height="0.9" fill="rgb(192,192,192)" fill-opacity="0.4"/>
<rect x="317.1" y="443.4" width="0.9" height="0.9" fill="rgb(195,195,195)" fill-opacity="0.4"/>
<rect x="303.0" y="435.0" width="0.9" height="0.9" fill="rgb(208,208,208)" fill-opacity="0.4"/>
<rect x="297.1" y="445.0" width="0.9" height="0.9" fill="rgb(211,211,211)" fill-opacity="0.4"/>
<rect x="295.0" y="438.7" width="0.9" height="0.9" fill="rgb(217,217,217)" fill-opacity="0.4"/>
<rect x="321.8" y="425.1" width="0.9" height="0.9" fill="rgb(221,221,221)" fill-opacity="0.4"/>
<rect x="322.6" y="449.9" width="0.9" height="0.9" fill="rgb(197,197,197)" fill-opacity="0.4"/>
<rect x="358.1" y="425.0" width="0.9" height="0.9" fill="rgb(217,217,217)" fill-opacity="0.4"/>
<rect x="302.6" y="468.0" width="0.9" height="0.9" fill="rgb(206,206,206)" fill-opacity="0.4"/>
<rect x="301.5" y="470.9" width="0.9" height="0.9" fill="rgb(213,213,213)" fill-opacity="0.4"/>
<rect x="343.3" y="440.5" width="0.9" height="0.9" fill="rgb(218,218,218)" fill-opacity="0.4"/>
<rect x="315.8" y="456.8" width="0.9" height="0.9" fill="rgb(206,206,206)" fill-opacity="0.4"/>
<rect x="302.2" y="471.1" width="0.9" height="0.9" fill="rgb(211,211,211)" fill-opacity="0.4"/>
<rect x="342.9" y="449.4" width="0.9" height="0.9" fill="rgb(197,197,197)" fill-opacity="0.4"/>
<rect x="342.5" y="448.0" width="0.9" height="0.9" fill="rgb(193,193,193)" fill-opacity="0.4"/>
<rect x="346.2" y="457.0" width="0.9" height="0.9" fill="rgb(201,201,201)" fill-opacity="0.4"/>
<rect x="341.0" y="459.7" width="0.9" height="0.9" fill="rgb(199,199,199)" fill-opacity="0.4"/>
<rect x="307.4" y="468.2" width="0.9" height="0.9" fill="rgb(219,219,219)" fill-opacity="0.4"/>
<rect x="303.4" y="470.4" width="0.9" height="0.9" fill="rgb(199,199,199)" fill-opacity="0.4"/>
<rect x="360.8" y="455.2" width="0.9" height="0.9" fill="rgb(216,216,216)" fill-opacity="0.4"/>
<rect x="334.5" y="455.3" width="0.9" height="0.9" fill="rgb(219,219,219)" fill-opacity="0.4"/>
<rect x="329.2" y="462.5" width="0.9" height="0.9" fill="rgb(194,194,194)" fill-opacity="0.4"/>
<rect x="302.2" y="430.6" width="0.9" height="0.9" fill="rgb(225,225,225)" fill-opacity="0.4"/>
<linearGradient id="g13" x1="0" y1="0" x2="1" y2="0"><stop offset="0" stop-color="#a4a4a4"/><stop offset="0.5" stop-color="#9c9c9c"/><stop offset="1" stop-color="#a6a6a6"/></linearGradient>
<filter id="f13" x="-50%" y="-80%" width="200%" height="260%"><feGaussianBlur stdDeviation="0.6 0.7"/></filter>
<rect x="297.00" y="385.20" width="19.00" height="4.20" fill="url(#g13)" fill-opacity="1.0" filter="url(#f13)"/>
<linearGradient id="g14" x1="0" y1="0" x2="1" y2="0"><stop offset="0" stop-color="#a6a6a6"/><stop offset="0.5" stop-color="#9e9e9e"/><stop offset="1" stop-color="#a2a2a2"/></linearGradient>
<filter id="f14" x="-50%" y="-80%" width="200%" height="260%"><feGaussianBlur stdDeviation="0.6 0.7"/></filter>
<rect x="319.20" y="385.20" width="19.60" height="4.20" fill="url(#g14)" fill-opacity="1.0" filter="url(#f14)"/>
<linearGradient id="g15" x1="0" y1="0" x2="1" y2="0"><stop offset="0" stop-color="#505050"/><stop offset="0.5" stop-color="#464646"/><stop offset="1" stop-color="#4c4c4c"/></linearGradient>
<filter id="f15" x="-50%" y="-80%" width="200%" height="260%"><feGaussianBlur stdDeviation="0.6 0.7"/></filter>
<rect x="342.20" y="384.40" width="20.80" height="5.40" fill="url(#g15)" fill-opacity="1.0" filter="url(#f15)"/>
<rect x="297.0" y="386.4" width="1.3" height="2.9" fill="rgb(220,220,220)" fill-opacity="0.55"/>
<rect x="298.6" y="385.6" width="1.7" height="2.6" fill="rgb(130,130,130)" fill-opacity="0.55"/>
<rect x="300.8" y="385.9" width="1.6" height="2.2" fill="rgb(110,110,110)" fill-opacity="0.55"/>
<rect x="302.8" y="386.1" width="1.7" height="2.5" fill="rgb(110,110,110)" fill-opacity="0.55"/>
<rect x="304.8" y="386.1" width="1.5" height="3.0" fill="rgb(130,130,130)" fill-opacity="0.55"/>
<rect x="306.4" y="386.1" width="0.8" height="2.9" fill="rgb(130,130,130)" fill-opacity="0.55"/>
<rect x="307.5" y="386.0" width="1.4" height="2.8" fill="rgb(130,130,130)" fill-opacity="0.55"/>
<rect x="309.3" y="386.2" width="1.5" height="2.5" fill="rgb(190,190,190)" fill-opacity="0.55"/>
<rect x="311.2" y="386.2" width="1.7" height="2.4" fill="rgb(110,110,110)" fill-opacity="0.55"/>
<rect x="313.1" y="386.1" width="1.1" height="2.1" fill="rgb(110,110,110)" fill-opacity="0.55"/>
<rect x="314.3" y="386.5" width="1.1" height="3.0" fill="rgb(110,110,110)" fill-opacity="0.55"/>
<rect x="319.2" y="386.0" width="1.0" height="3.2" fill="rgb(110,110,110)" fill-opacity="0.55"/>
<rect x="320.5" y="386.3" width="0.9" height="2.3" fill="rgb(130,130,130)" fill-opacity="0.55"/>
<rect x="321.5" y="386.3" width="1.1" height="2.1" fill="rgb(190,190,190)" fill-opacity="0.55"/>
<rect x="322.8" y="386.0" width="0.9" height="2.6" fill="rgb(110,110,110)" fill-opacity="0.55"/>
<rect x="324.2" y="385.6" width="1.0" height="2.9" fill="rgb(220,220,220)" fill-opacity="0.55"/>
<rect x="325.3" y="385.9" width="1.4" height="3.2" fill="rgb(110,110,110)" fill-opacity="0.55"/>
<rect x="326.8" y="385.8" width="1.7" height="3.1" fill="rgb(220,220,220)" fill-opacity="0.55"/>
<rect x="328.6" y="386.2" width="1.2" height="2.1" fill="rgb(220,220,220)" fill-opacity="0.55"/>
<rect x="330.6" y="385.4" width="1.0" height="2.7" fill="rgb(150,150,150)" fill-opacity="0.55"/>
<rect x="332.3" y="385.5" width="1.2" height="2.7" fill="rgb(110,110,110)" fill-opacity="0.55"/>
<rect x="333.7" y="386.1" width="1.4" height="2.2" fill="rgb(150,150,150)" fill-opacity="0.55"/>
<rect x="335.5" y="386.4" width="1.6" height="2.2" fill="rgb(130,130,130)" fill-opacity="0.55"/>
<rect x="337.3" y="385.7" width="1.7" height="2.2" fill="rgb(220,220,220)" fill-opacity="0.55"/>
<rect x="342.2" y="385.6" width="1.7" height="2.5" fill="rgb(55,55,55)" fill-opacity="0.55"/>
<rect x="344.3" y="384.9" width="0.9" height="2.0" fill="rgb(40,40,40)" fill-opacity="0.55"/>
<rect x="346.0" y="385.1" width="1.0" height="3.0" fill="rgb(90,90,90)" fill-opacity="0.55"/>
<rect x="347.5" y="385.9" width="1.1" height="3.2" fill="rgb(55,55,55)" fill-opacity="0.55"/>
<rect x="348.7" y="385.1" width="1.3" height="3.1" fill="rgb(40,40,40)" fill-opacity="0.55"/>
<rect x="350.1" y="385.3" width="0.8" height="2.3" fill="rgb(70,70,70)" fill-opacity="0.55"/>
<rect x="351.0" y="384.9" width="1.1" height="2.2" fill="rgb(55,55,55)" fill-opacity="0.55"/>
<rect x="352.4" y="385.5" width="1.1" height="3.1" fill="rgb(55,55,55)" fill-opacity="0.55"/>
<rect x="353.9" y="386.0" width="1.2" height="2.0" fill="rgb(70,70,70)" fill-opacity="0.55"/>
<rect x="355.6" y="385.2" width="1.3" height="3.2" fill="rgb(70,70,70)" fill-opacity="0.55"/>
<rect x="356.9" y="385.9" width="1.3" height="2.9" fill="rgb(40,40,40)" fill-opacity="0.55"/>
<rect x="358.9" y="385.2" width="1.6" height="2.8" fill="rgb(70,70,70)" fill-opacity="0.55"/>
<rect x="361.2" y="385.9" width="1.7" height="2.0" fill="rgb(90,90,90)" fill-opacity="0.55"/>
<linearGradient id="g16" x1="0" y1="0" x2="0" y2="1"><stop offset="0" stop-color="#c8c8c8"/><stop offset="1" stop-color="#6a6a6a"/></linearGradient>
<filter id="f16" x="-50%" y="-80%" width="200%" height="260%"><feGaussianBlur stdDeviation="0.9 0.9"/></filter>
<rect x="296.00" y="445.00" width="19.40" height="4.00" fill="url(#g16)" fill-opacity="1.0" filter="url(#f16)"/>
<linearGradient id="g17" x1="0" y1="0" x2="0" y2="1"><stop offset="0" stop-color="#c8c8c8"/><stop offset="1" stop-color="#6e6e6e"/></linearGradient>
<filter id="f17" x="-50%" y="-80%" width="200%" height="260%"><feGaussianBlur stdDeviation="0.9 0.9"/></filter>
<rect x="318.20" y="445.40" width="19.60" height="4.00" fill="url(#g17)" fill-opacity="1.0" filter="url(#f17)"/>
<linearGradient id="g18" x1="0" y1="0" x2="0" y2="1"><stop offset="0" stop-color="#c0c0c0"/><stop offset="1" stop-color="#606060"/></linearGradient>
<filter id="f18" x="-50%" y="-80%" width="200%" height="260%"><feGaussianBlur stdDeviation="0.9 0.9"/></filter>
<rect x="341.60" y="443.00" width="20.40" height="5.00" fill="url(#g18)" fill-opacity="1.0" filter="url(#f18)"/>
<linearGradient id="g19" x1="0" y1="0" x2="0" y2="1"><stop offset="0" stop-color="#4a4a4a"/><stop offset="0.6" stop-color="#2a2a2a"/><stop offset="1" stop-color="#262626"/></linearGradient>
<filter id="f19" x="-50%" y="-80%" width="200%" height="260%"><feGaussianBlur stdDeviation="0.9 0.9"/></filter>
<rect x="296.00" y="448.60" width="19.40" height="6.20" fill="url(#g19)" fill-opacity="1.0" filter="url(#f19)"/>
<linearGradient id="g20" x1="0" y1="0" x2="0" y2="1"><stop offset="0" stop-color="#4e4e4e"/><stop offset="0.6" stop-color="#2e2e2e"/><stop offset="1" stop-color="#2a2a2a"/></linearGradient>
<filter id="f20" x="-50%" y="-80%" width="200%" height="260%"><feGaussianBlur stdDeviation="0.9 0.9"/></filter>
<rect x="318.20" y="448.80" width="19.60" height="6.00" fill="url(#g20)" fill-opacity="1.0" filter="url(#f20)"/>
<linearGradient id="g21" x1="0" y1="0" x2="0" y2="1"><stop offset="0" stop-color="#484848"/><stop offset="0.6" stop-color="#2a2a2a"/><stop offset="1" stop-color="#262626"/></linearGradient>
<filter id="f21" x="-50%" y="-80%" width="200%" height="260%"><feGaussianBlur stdDeviation="0.9 0.9"/></filter>
<rect x="341.60" y="447.40" width="20.40" height="7.40" fill="url(#g21)" fill-opacity="1.0" filter="url(#f21)"/>
<text x="266.20" y="396.20" font-size="9.8" text-anchor="middle" font-weight="normal" fill="#0a0a0a" >p-S897</text>
<text x="266.00" y="454.60" font-size="9.3" text-anchor="middle" font-weight="normal" fill="#0a0a0a" >EphA2</text>
<line x1="373.80" y1="383.00" x2="396.00" y2="383.00" stroke="#111" stroke-width="1.4" />
<line x1="373.80" y1="443.80" x2="396.00" y2="443.80" stroke="#111" stroke-width="1.4" />
<text x="398.80" y="386.30" font-size="9.3" text-anchor="start" font-weight="normal" fill="#0a0a0a" >171 kDa</text>
<text x="398.80" y="447.10" font-size="9.3" text-anchor="start" font-weight="normal" fill="#0a0a0a" >171 kDa</text>
<text x="-0.50" y="328.70" font-size="14" text-anchor="start" font-weight="bold" fill="#000" >e</text>
<line x1="63.80" y1="327.60" x2="63.80" y2="446.20" stroke="#444" stroke-width="1" />
<line x1="60.60" y1="446.10" x2="63.80" y2="446.10" stroke="#444" stroke-width="1" />
<text x="57.40" y="449.75" font-size="9.6" text-anchor="end" font-weight="normal" fill="#0a0a0a" >0.0</text>
<line x1="60.60" y1="406.60" x2="63.80" y2="406.60" stroke="#444" stroke-width="1" />
<text x="57.40" y="410.25" font-size="9.6" text-anchor="end" font-weight="normal" fill="#0a0a0a" >0.5</text>
<line x1="60.60" y1="367.10" x2="63.80" y2="367.10" stroke="#444" stroke-width="1" />
<text x="57.40" y="370.75" font-size="9.6" text-anchor="end" font-weight="normal" fill="#0a0a0a" >1.0</text>
<line x1="60.60" y1="327.60" x2="63.80" y2="327.60" stroke="#444" stroke-width="1" />
<text x="57.40" y="331.25" font-size="9.6" text-anchor="end" font-weight="normal" fill="#0a0a0a" >1.5</text>
<line x1="62.00" y1="426.35" x2="63.80" y2="426.35" stroke="#444" stroke-width="1" />
<line x1="62.00" y1="386.85" x2="63.80" y2="386.85" stroke="#444" stroke-width="1" />
<line x1="62.00" y1="347.35" x2="63.80" y2="347.35" stroke="#444" stroke-width="1" />
<line x1="63.80" y1="446.20" x2="159.00" y2="446.20" stroke="#444" stroke-width="1" />
<rect x="67.10" y="367.10" width="24.60" height="79.10" fill="#c0c0c0" stroke="#3c3c3c" stroke-width="0.9"/>
<rect x="99.60" y="371.84" width="24.80" height="74.36" fill="#c0c0c0" stroke="#3c3c3c" stroke-width="0.9"/>
<rect x="134.30" y="416.48" width="24.30" height="29.72" fill="#c0c0c0" stroke="#3c3c3c" stroke-width="0.9"/>
<line x1="112.20" y1="365.70" x2="112.20" y2="371.84" stroke="#333" stroke-width="0.9" />
<line x1="110.00" y1="365.70" x2="114.40" y2="365.70" stroke="#333" stroke-width="0.9" />
<line x1="146.20" y1="413.60" x2="146.20" y2="416.48" stroke="#333" stroke-width="0.9" />
<line x1="144.00" y1="413.60" x2="148.40" y2="413.60" stroke="#333" stroke-width="0.9" />
<line x1="79.40" y1="446.20" x2="79.40" y2="448.40" stroke="#333" stroke-width="0.9" />
<line x1="112.00" y1="446.20" x2="112.00" y2="448.40" stroke="#333" stroke-width="0.9" />
<line x1="146.20" y1="446.20" x2="146.20" y2="448.40" stroke="#333" stroke-width="0.9" />
<circle cx="105.80" cy="367.00" r="3.4" fill="#000"/>
<circle cx="118.20" cy="363.30" r="3.4" fill="#000"/>
<circle cx="112.50" cy="383.80" r="3.4" fill="#000"/>
<circle cx="136.80" cy="414.60" r="3.4" fill="#000"/>
<circle cx="143.50" cy="423.50" r="3.4" fill="#000"/>
<circle cx="149.20" cy="418.50" r="3.4" fill="#000"/>
<circle cx="155.30" cy="409.60" r="3.4" fill="#000"/>
<polyline points="85.40,335.80 85.40,326.40 141.90,326.40 141.90,335.80" fill="none" stroke="#2a2a2a" stroke-width="0.95" stroke-linejoin="round"/>
<text x="117.00" y="324.60" font-size="11.0" text-anchor="middle" font-weight="normal" fill="#0a0a0a" >**</text>
<polyline points="85.40,353.30 85.40,343.00 119.60,343.00 119.60,353.30" fill="none" stroke="#2a2a2a" stroke-width="0.95" stroke-linejoin="round"/>
<text x="107.00" y="339.70" font-size="9.0" text-anchor="middle" font-weight="normal" fill="#0a0a0a" >n.s.</text>
<text x="79.50" y="460.80" font-size="9.6" text-anchor="middle" font-weight="normal" fill="#0a0a0a" >WT</text>
<text x="112.20" y="460.80" font-size="9.6" text-anchor="middle" font-weight="normal" fill="#0a0a0a" >L223R</text>
<text x="112.20" y="472.00" font-size="9.6" text-anchor="middle" font-weight="normal" fill="#0a0a0a" >L254R</text>
<text x="112.20" y="483.20" font-size="9.6" text-anchor="middle" font-weight="normal" fill="#0a0a0a" >V255R</text>
<text x="146.40" y="460.80" font-size="9.6" text-anchor="middle" font-weight="normal" fill="#0a0a0a" >G131Y</text>
<text transform="translate(34.10,386.60) rotate(-90)" font-size="9.5" text-anchor="middle" fill="#0a0a0a" >Y772 phosphorylation</text>
<text x="-0.50" y="509.90" font-size="14" text-anchor="start" font-weight="bold" fill="#000" >g</text>
<line x1="63.80" y1="518.69" x2="63.80" y2="637.20" stroke="#444" stroke-width="1" />
<line x1="60.60" y1="637.20" x2="63.80" y2="637.20" stroke="#444" stroke-width="1" />
<text x="55.70" y="640.60" font-size="9.6" text-anchor="end" font-weight="normal" fill="#0a0a0a" >0.0</text>
<line x1="60.60" y1="620.27" x2="63.80" y2="620.27" stroke="#444" stroke-width="1" />
<text x="55.70" y="623.67" font-size="9.6" text-anchor="end" font-weight="normal" fill="#0a0a0a" >0.5</text>
<line x1="60.60" y1="603.34" x2="63.80" y2="603.34" stroke="#444" stroke-width="1" />
<text x="55.70" y="606.74" font-size="9.6" text-anchor="end" font-weight="normal" fill="#0a0a0a" >1.0</text>
<line x1="60.60" y1="586.41" x2="63.80" y2="586.41" stroke="#444" stroke-width="1" />
<text x="55.70" y="589.81" font-size="9.6" text-anchor="end" font-weight="normal" fill="#0a0a0a" >1.5</text>
<line x1="60.60" y1="569.48" x2="63.80" y2="569.48" stroke="#444" stroke-width="1" />
<text x="55.70" y="572.88" font-size="9.6" text-anchor="end" font-weight="normal" fill="#0a0a0a" >2.0</text>
<line x1="60.60" y1="552.55" x2="63.80" y2="552.55" stroke="#444" stroke-width="1" />
<text x="55.70" y="555.95" font-size="9.6" text-anchor="end" font-weight="normal" fill="#0a0a0a" >2.5</text>
<line x1="60.60" y1="535.62" x2="63.80" y2="535.62" stroke="#444" stroke-width="1" />
<text x="55.70" y="539.02" font-size="9.6" text-anchor="end" font-weight="normal" fill="#0a0a0a" >3.0</text>
<line x1="60.60" y1="518.69" x2="63.80" y2="518.69" stroke="#444" stroke-width="1" />
<text x="55.70" y="522.09" font-size="9.6" text-anchor="end" font-weight="normal" fill="#0a0a0a" >3.5</text>
<line x1="62.00" y1="628.74" x2="63.80" y2="628.74" stroke="#444" stroke-width="1" />
<line x1="62.00" y1="611.81" x2="63.80" y2="611.81" stroke="#444" stroke-width="1" />
<line x1="62.00" y1="594.88" x2="63.80" y2="594.88" stroke="#444" stroke-width="1" />
<line x1="62.00" y1="577.95" x2="63.80" y2="577.95" stroke="#444" stroke-width="1" />
<line x1="62.00" y1="561.02" x2="63.80" y2="561.02" stroke="#444" stroke-width="1" />
<line x1="62.00" y1="544.09" x2="63.80" y2="544.09" stroke="#444" stroke-width="1" />
<line x1="62.00" y1="527.16" x2="63.80" y2="527.16" stroke="#444" stroke-width="1" />
<line x1="63.80" y1="637.20" x2="158.60" y2="637.20" stroke="#444" stroke-width="1" />
<rect x="67.10" y="603.34" width="24.60" height="33.86" fill="#c0c0c0" stroke="#3c3c3c" stroke-width="0.9"/>
<rect x="97.60" y="602.32" width="24.80" height="34.88" fill="#c0c0c0" stroke="#3c3c3c" stroke-width="0.9"/>
<rect x="132.30" y="565.08" width="24.30" height="72.12" fill="#c0c0c0" stroke="#3c3c3c" stroke-width="0.9"/>
<line x1="110.00" y1="598.60" x2="110.00" y2="602.32" stroke="#333" stroke-width="0.9" />
<line x1="107.80" y1="598.60" x2="112.20" y2="598.60" stroke="#333" stroke-width="0.9" />
<line x1="144.20" y1="560.00" x2="144.20" y2="565.08" stroke="#333" stroke-width="0.9" />
<line x1="142.00" y1="560.00" x2="146.40" y2="560.00" stroke="#333" stroke-width="0.9" />
<line x1="79.40" y1="637.20" x2="79.40" y2="639.40" stroke="#333" stroke-width="0.9" />
<line x1="110.00" y1="637.20" x2="110.00" y2="639.40" stroke="#333" stroke-width="0.9" />
<line x1="144.20" y1="637.20" x2="144.20" y2="639.40" stroke="#333" stroke-width="0.9" />
<circle cx="104.10" cy="599.20" r="3.4" fill="#000"/>
<circle cx="116.40" cy="600.40" r="3.4" fill="#000"/>
<circle cx="110.00" cy="606.60" r="3.4" fill="#000"/>
<circle cx="144.70" cy="531.00" r="3.4" fill="#000"/>
<circle cx="144.70" cy="557.80" r="3.4" fill="#000"/>
<circle cx="136.30" cy="572.40" r="3.4" fill="#000"/>
<circle cx="152.90" cy="573.90" r="3.4" fill="#000"/>
<circle cx="144.70" cy="590.50" r="3.4" fill="#000"/>
<polyline points="82.10,526.80 82.10,517.50 136.50,517.50 136.50,526.80" fill="none" stroke="#2a2a2a" stroke-width="0.95" stroke-linejoin="round"/>
<text x="109.40" y="514.60" font-size="9.6" text-anchor="middle" font-weight="normal" fill="#0a0a0a" >*</text>
<polyline points="80.60,587.40 80.60,577.50 111.30,577.50 111.30,587.40" fill="none" stroke="#2a2a2a" stroke-width="0.95" stroke-linejoin="round"/>
<text x="99.10" y="573.90" font-size="9.0" text-anchor="middle" font-weight="normal" fill="#0a0a0a" >n.s.</text>
<text x="79.80" y="653.00" font-size="9.6" text-anchor="middle" font-weight="normal" fill="#0a0a0a" >WT</text>
<text x="109.50" y="653.00" font-size="9.6" text-anchor="middle" font-weight="normal" fill="#0a0a0a" >L223R</text>
<text x="109.50" y="664.80" font-size="9.6" text-anchor="middle" font-weight="normal" fill="#0a0a0a" >L254R</text>
<text x="109.50" y="676.60" font-size="9.6" text-anchor="middle" font-weight="normal" fill="#0a0a0a" >V255R</text>
<text x="144.20" y="653.00" font-size="9.6" text-anchor="middle" font-weight="normal" fill="#0a0a0a" >G131Y</text>
<text transform="translate(32.20,578.90) rotate(-90)" font-size="9.5" text-anchor="middle" fill="#0a0a0a" >S897 phosphorylation</text>
<text x="246.90" y="510.30" font-size="14" text-anchor="start" font-weight="bold" fill="#000" >h</text>
<line x1="299.40" y1="514.80" x2="299.40" y2="645.60" stroke="#333" stroke-width="1" />
<line x1="295.20" y1="645.60" x2="299.40" y2="645.60" stroke="#333" stroke-width="1" />
<text x="291.30" y="648.40" font-size="9.8" text-anchor="end" font-weight="normal" fill="#0a0a0a" >0.0</text>
<line x1="295.20" y1="612.90" x2="299.40" y2="612.90" stroke="#333" stroke-width="1" />
<text x="291.30" y="615.70" font-size="9.8" text-anchor="end" font-weight="normal" fill="#0a0a0a" >0.5</text>
<line x1="295.20" y1="580.20" x2="299.40" y2="580.20" stroke="#333" stroke-width="1" />
<text x="291.30" y="583.00" font-size="9.8" text-anchor="end" font-weight="normal" fill="#0a0a0a" >1.0</text>
<line x1="295.20" y1="547.50" x2="299.40" y2="547.50" stroke="#333" stroke-width="1" />
<text x="291.30" y="550.30" font-size="9.8" text-anchor="end" font-weight="normal" fill="#0a0a0a" >1.5</text>
<line x1="295.20" y1="514.80" x2="299.40" y2="514.80" stroke="#333" stroke-width="1" />
<text x="291.30" y="517.60" font-size="9.8" text-anchor="end" font-weight="normal" fill="#0a0a0a" >2.0</text>
<line x1="297.20" y1="629.25" x2="299.40" y2="629.25" stroke="#333" stroke-width="1" />
<line x1="297.20" y1="596.55" x2="299.40" y2="596.55" stroke="#333" stroke-width="1" />
<line x1="297.20" y1="563.85" x2="299.40" y2="563.85" stroke="#333" stroke-width="1" />
<line x1="297.20" y1="531.15" x2="299.40" y2="531.15" stroke="#333" stroke-width="1" />
<line x1="299.40" y1="645.60" x2="435.30" y2="645.60" stroke="#444" stroke-width="1" />
<rect x="303.40" y="580.20" width="27.50" height="65.40" fill="#c0c0c0" stroke="#3c3c3c" stroke-width="0.9"/>
<rect x="336.90" y="575.75" width="28.60" height="69.85" fill="#c0c0c0" stroke="#3c3c3c" stroke-width="0.9"/>
<rect x="372.20" y="569.74" width="27.80" height="75.86" fill="#c0c0c0" stroke="#3c3c3c" stroke-width="0.9"/>
<rect x="406.70" y="547.17" width="27.60" height="98.43" fill="#c0c0c0" stroke="#3c3c3c" stroke-width="0.9"/>
<line x1="351.20" y1="571.50" x2="351.20" y2="575.75" stroke="#333" stroke-width="0.9" />
<line x1="349.00" y1="571.50" x2="353.40" y2="571.50" stroke="#333" stroke-width="0.9" />
<line x1="386.10" y1="566.50" x2="386.10" y2="569.74" stroke="#333" stroke-width="0.9" />
<line x1="383.90" y1="566.50" x2="388.30" y2="566.50" stroke="#333" stroke-width="0.9" />
<line x1="420.50" y1="544.50" x2="420.50" y2="547.17" stroke="#333" stroke-width="0.9" />
<line x1="418.30" y1="544.50" x2="422.70" y2="544.50" stroke="#333" stroke-width="0.9" />
<line x1="316.80" y1="645.60" x2="316.80" y2="647.80" stroke="#333" stroke-width="0.9" />
<line x1="351.20" y1="645.60" x2="351.20" y2="647.80" stroke="#333" stroke-width="0.9" />
<line x1="386.10" y1="645.60" x2="386.10" y2="647.80" stroke="#333" stroke-width="0.9" />
<line x1="420.50" y1="645.60" x2="420.50" y2="647.80" stroke="#333" stroke-width="0.9" />
<circle cx="344.70" cy="565.50" r="3.75" fill="#000"/>
<circle cx="358.80" cy="571.50" r="3.75" fill="#000"/>
<circle cx="344.70" cy="582.20" r="3.75" fill="#000"/>
<circle cx="358.80" cy="582.90" r="3.75" fill="#000"/>
<circle cx="375.50" cy="574.50" r="3.75" fill="#000"/>
<circle cx="382.90" cy="568.20" r="3.75" fill="#000"/>
<circle cx="389.60" cy="557.80" r="3.75" fill="#000"/>
<circle cx="396.30" cy="576.50" r="3.75" fill="#000"/>
<circle cx="410.80" cy="549.70" r="3.75" fill="#000"/>
<circle cx="420.20" cy="548.00" r="3.75" fill="#000"/>
<circle cx="429.90" cy="543.70" r="3.75" fill="#000"/>
<polyline points="363.80,515.10 363.80,507.80 419.80,507.80 419.80,515.10" fill="none" stroke="#2a2a2a" stroke-width="0.95" stroke-linejoin="round"/>
<text x="392.30" y="506.00" font-size="11.0" text-anchor="middle" font-weight="normal" fill="#0a0a0a" >**</text>
<polyline points="384.90,538.00 384.90,529.60 419.80,529.60 419.80,538.00" fill="none" stroke="#2a2a2a" stroke-width="0.95" stroke-linejoin="round"/>
<text x="400.70" y="527.60" font-size="11.0" text-anchor="middle" font-weight="normal" fill="#0a0a0a" >**</text>
<polyline points="350.40,552.70 350.40,545.30 384.90,545.30 384.90,552.70" fill="none" stroke="#2a2a2a" stroke-width="0.95" stroke-linejoin="round"/>
<text x="368.20" y="541.70" font-size="9.0" text-anchor="middle" font-weight="normal" fill="#0a0a0a" >n.s.</text>
<text x="316.80" y="661.80" font-size="9.3" text-anchor="middle" font-weight="normal" fill="#0a0a0a" >V</text>
<text x="351.40" y="661.80" font-size="9.3" text-anchor="middle" font-weight="normal" fill="#0a0a0a" >WT</text>
<text x="386.30" y="661.80" font-size="9.3" text-anchor="middle" font-weight="normal" fill="#0a0a0a" >L223R</text>
<text x="386.30" y="672.70" font-size="9.3" text-anchor="middle" font-weight="normal" fill="#0a0a0a" >L254R</text>
<text x="386.30" y="683.60" font-size="9.3" text-anchor="middle" font-weight="normal" fill="#0a0a0a" >V255R</text>
<text x="420.80" y="661.80" font-size="9.3" text-anchor="middle" font-weight="normal" fill="#0a0a0a" >G131Y</text>
<text transform="translate(257.20,580.30) rotate(-90)" font-size="9.6" text-anchor="middle" fill="#0a0a0a" >Relative population</text>
<text transform="translate(268.60,580.00) rotate(-90)" font-size="9.3" text-anchor="middle" fill="#0a0a0a" >of migratory cells</text></svg></body></html>
